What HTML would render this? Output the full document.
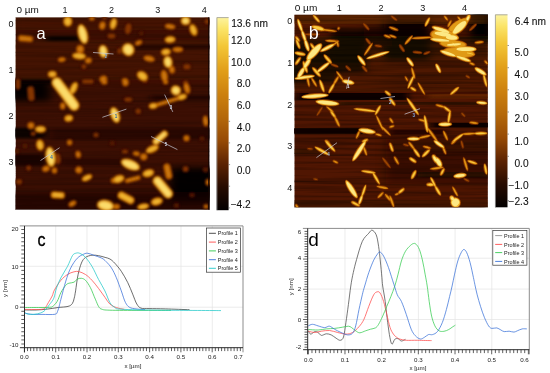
<!DOCTYPE html><html><head><meta charset="utf-8"><title>AFM figure</title>
<style>html,body{margin:0;padding:0;background:#fff;}svg{display:block;}text{font-family:"Liberation Sans",sans-serif;}</style></head><body>
<svg width="550" height="373" viewBox="0 0 550 373">
<defs>
<linearGradient id="cb" x1="0" y1="0" x2="0" y2="1">
<stop offset="0" stop-color="#fdf4a0"/><stop offset="0.06" stop-color="#fbe468"/><stop offset="0.15" stop-color="#f3c636"/>
<stop offset="0.27" stop-color="#e2a01a"/><stop offset="0.4" stop-color="#cc800e"/><stop offset="0.52" stop-color="#b4680a"/>
<stop offset="0.64" stop-color="#964a05"/><stop offset="0.76" stop-color="#5c2302"/><stop offset="0.88" stop-color="#270b00"/><stop offset="1" stop-color="#030000"/>
</linearGradient>
<filter id="bl1" x="-20%" y="-20%" width="140%" height="140%"><feGaussianBlur stdDeviation="1.1"/></filter>
<filter id="bl05" x="-20%" y="-20%" width="140%" height="140%"><feGaussianBlur stdDeviation="0.75"/></filter>
<filter id="bl2" x="-20%" y="-50%" width="140%" height="200%"><feGaussianBlur stdDeviation="3.5 1"/></filter>
<filter id="blbig" x="-20%" y="-20%" width="140%" height="140%"><feGaussianBlur stdDeviation="5 3"/></filter>
<filter id="streak" x="0" y="0" width="100%" height="100%"><feTurbulence type="fractalNoise" baseFrequency="0.008 0.35" numOctaves="3" seed="7"/><feColorMatrix type="matrix" values="0 0 0 0 0  0 0 0 0 0  0 0 0 0 0  1.6 0 0 0 -0.62"/></filter>
<filter id="bl3" x="-20%" y="-50%" width="140%" height="200%"><feGaussianBlur stdDeviation="3.5 0.7"/></filter>
<filter id="tb" x="-20%" y="-20%" width="140%" height="140%"><feGaussianBlur stdDeviation="0.35"/></filter>
<clipPath id="ca"><rect x="15.5" y="17.3" width="193.9" height="192.29999999999998"/></clipPath>
<clipPath id="cbp"><rect x="294.3" y="14.5" width="193.59999999999997" height="192.7"/></clipPath>
</defs>
<rect width="550" height="373" fill="#fff"/>
<g clip-path="url(#ca)">
<rect x="15.5" y="17.3" width="193.9" height="192.29999999999998" fill="#3c0f03"/>
<g filter="url(#blbig)">
<rect x="15" y="17" width="200" height="13" fill="#5a1806" opacity="0.35"/>
<rect x="10" y="79" width="40" height="22" fill="#050100" opacity="0.9"/>
<rect x="170" y="168" width="46" height="33" fill="#030000" opacity="0.95"/>
<rect x="10" y="192" width="205" height="22" fill="#100300" opacity="0.55"/>
<rect x="10" y="40" width="205" height="40" fill="#5a1a04" opacity="0.25"/>
</g>
<g filter="url(#bl2)">
<rect x="46" y="36" width="34" height="5" fill="#060100" opacity="0.85"/>
<rect x="130" y="45" width="85" height="4" fill="#0c0200" opacity="0.6"/>
<rect x="10" y="80" width="50" height="4" fill="#060100" opacity="0.7"/>
<rect x="150" y="95" width="65" height="5" fill="#0c0200" opacity="0.6"/>
<rect x="10" y="128" width="36" height="10" fill="#080100" opacity="0.8"/>
<rect x="50" y="128" width="165" height="12" fill="#140400" opacity="0.45"/>
<rect x="10" y="154" width="36" height="12" fill="#0a0200" opacity="0.75"/>
<rect x="60" y="158" width="70" height="8" fill="#140400" opacity="0.4"/>
</g>
<rect x="15.5" y="17.3" width="193.9" height="192.29999999999998" filter="url(#streak)" opacity="0.25"/>
<g filter="url(#bl1)">
<ellipse transform="translate(141.3 33.2) rotate(0)" rx="2.9" ry="2.9" fill="#3e1002"/>
<ellipse transform="translate(112.4 143.3) rotate(0)" rx="3.1" ry="2.9" fill="#3e1002"/>
<ellipse transform="translate(25.0 146.0) rotate(0)" rx="3.3" ry="3.1" fill="#3e1002"/>
<ellipse transform="translate(202.0 138.7) rotate(0)" rx="3.1" ry="2.9" fill="#3e1002"/>
<ellipse transform="translate(112.0 143.0) rotate(0)" rx="2.7" ry="2.9" fill="#3e1002"/>
<ellipse transform="translate(17.0 151.0) rotate(0)" rx="2.7" ry="3.5" fill="#3e1002"/>
<ellipse transform="translate(205.6 169.6) rotate(0)" rx="3.3" ry="3.1" fill="#3e1002"/>
<ellipse transform="translate(192.0 195.0) rotate(0)" rx="3.1" ry="2.6" fill="#3e1002"/>
<ellipse transform="translate(176.5 205.5) rotate(0)" rx="3.1" ry="2.9" fill="#3e1002"/>
<ellipse transform="translate(83.9 66.5) rotate(0)" rx="3.3" ry="3.3" fill="#4a1502"/>
<ellipse transform="translate(104.5 18.3) rotate(0)" rx="3.1" ry="2.4" fill="#4a1502"/>
<ellipse transform="translate(111.5 36.0) rotate(0)" rx="4.9" ry="3.4" fill="#4a1502"/>
<rect transform="translate(87.9 81.5) rotate(0)" x="-6.7" y="-3.1" width="13.4" height="6.2" rx="3.1" fill="#4a1502"/>
<ellipse transform="translate(18.0 81.0) rotate(0)" rx="3.1" ry="3.1" fill="#4a1502"/>
<ellipse transform="translate(128.2 28.7) rotate(10)" rx="4.0" ry="6.2" fill="#4a1502"/>
<ellipse transform="translate(119.5 50.9) rotate(0)" rx="3.1" ry="3.8" fill="#4a1502"/>
<ellipse transform="translate(186.9 66.7) rotate(0)" rx="4.5" ry="3.6" fill="#4a1502"/>
<ellipse transform="translate(207.0 21.4) rotate(0)" rx="3.1" ry="3.5" fill="#4a1502"/>
<ellipse transform="translate(185.6 82.5) rotate(0)" rx="3.5" ry="2.7" fill="#4a1502"/>
<rect transform="translate(31.0 93.7) rotate(-5)" x="-4.0" y="-8.1" width="8.0" height="16.1" rx="4.0" fill="#4a1502"/>
<ellipse transform="translate(18.0 85.0) rotate(0)" rx="3.1" ry="5.3" fill="#4a1502"/>
<ellipse transform="translate(33.2 133.7) rotate(0)" rx="3.1" ry="2.7" fill="#4a1502"/>
<ellipse transform="translate(96.0 135.0) rotate(0)" rx="3.3" ry="3.1" fill="#4a1502"/>
<ellipse transform="translate(145.0 81.0) rotate(0)" rx="3.1" ry="2.7" fill="#4a1502"/>
<ellipse transform="translate(128.2 99.5) rotate(0)" rx="4.9" ry="3.1" fill="#4a1502"/>
<ellipse transform="translate(138.2 111.3) rotate(0)" rx="3.5" ry="3.6" fill="#4a1502"/>
<ellipse transform="translate(57.8 158.7) rotate(-5)" rx="3.6" ry="6.2" fill="#4a1502"/>
<ellipse transform="translate(28.7 168.1) rotate(0)" rx="3.3" ry="3.1" fill="#4a1502"/>
<ellipse transform="translate(19.0 181.8) rotate(0)" rx="3.8" ry="3.6" fill="#4a1502"/>
<ellipse transform="translate(125.0 151.5) rotate(0)" rx="4.0" ry="2.9" fill="#4a1502"/>
<ellipse transform="translate(185.6 169.0) rotate(0)" rx="3.6" ry="3.5" fill="#4a1502"/>
<rect transform="translate(25.6 38.7) rotate(5)" x="-8.5" y="-4.0" width="17.0" height="8.0" rx="4.0" fill="#5e2002"/>
<ellipse transform="translate(80.2 49.2) rotate(0)" rx="4.9" ry="5.3" fill="#5e2002"/>
<ellipse transform="translate(61.8 59.6) rotate(-10)" rx="4.9" ry="3.4" fill="#5e2002"/>
<ellipse transform="translate(88.4 60.5) rotate(-20)" rx="4.5" ry="4.0" fill="#5e2002"/>
<ellipse transform="translate(91.9 18.6) rotate(0)" rx="3.8" ry="2.9" fill="#5e2002"/>
<ellipse transform="translate(102.4 25.6) rotate(15)" rx="4.2" ry="5.1" fill="#5e2002"/>
<ellipse transform="translate(103.3 79.1) rotate(-20)" rx="4.9" ry="4.5" fill="#5e2002"/>
<ellipse transform="translate(138.6 42.7) rotate(-25)" rx="4.7" ry="3.3" fill="#5e2002"/>
<ellipse transform="translate(149.2 58.7) rotate(12)" rx="6.7" ry="4.0" fill="#5e2002"/>
<ellipse transform="translate(170.1 26.5) rotate(8)" rx="6.2" ry="3.6" fill="#5e2002"/>
<ellipse transform="translate(177.8 49.6) rotate(0)" rx="6.2" ry="3.6" fill="#5e2002"/>
<ellipse transform="translate(171.9 69.6) rotate(-10)" rx="4.0" ry="4.9" fill="#5e2002"/>
<ellipse transform="translate(164.3 76.0) rotate(-10)" rx="4.5" ry="7.2" fill="#5e2002"/>
<ellipse transform="translate(124.9 80.6) rotate(0)" rx="4.0" ry="3.5" fill="#5e2002"/>
<ellipse transform="translate(104.3 82.0) rotate(0)" rx="4.0" ry="3.5" fill="#5e2002"/>
<ellipse transform="translate(62.7 105.9) rotate(0)" rx="3.6" ry="4.5" fill="#5e2002"/>
<ellipse transform="translate(31.0 125.5) rotate(0)" rx="4.5" ry="4.5" fill="#5e2002"/>
<ellipse transform="translate(69.6 142.5) rotate(0)" rx="3.6" ry="3.8" fill="#5e2002"/>
<ellipse transform="translate(125.5 82.7) rotate(10)" rx="4.2" ry="4.5" fill="#5e2002"/>
<ellipse transform="translate(165.6 82.0) rotate(0)" rx="3.5" ry="3.3" fill="#5e2002"/>
<ellipse transform="translate(186.9 88.2) rotate(-15)" rx="4.0" ry="6.7" fill="#5e2002"/>
<rect transform="translate(168.0 101.5) rotate(-17)" x="-15.7" y="-2.9" width="31.4" height="5.8" rx="2.9" fill="#5e2002"/>
<ellipse transform="translate(205.6 121.0) rotate(-5)" rx="3.6" ry="6.2" fill="#5e2002"/>
<ellipse transform="translate(186.5 138.3) rotate(0)" rx="4.0" ry="4.0" fill="#5e2002"/>
<ellipse transform="translate(46.0 168.7) rotate(-20)" rx="4.9" ry="4.0" fill="#5e2002"/>
<ellipse transform="translate(54.5 170.5) rotate(0)" rx="3.6" ry="4.0" fill="#5e2002"/>
<ellipse transform="translate(78.2 154.5) rotate(-10)" rx="3.6" ry="4.5" fill="#5e2002"/>
<ellipse transform="translate(78.8 170.0) rotate(30)" rx="4.5" ry="4.4" fill="#5e2002"/>
<ellipse transform="translate(72.4 203.7) rotate(-30)" rx="5.1" ry="3.5" fill="#5e2002"/>
<ellipse transform="translate(113.4 180.5) rotate(0)" rx="3.5" ry="3.5" fill="#5e2002"/>
<ellipse transform="translate(136.4 153.6) rotate(10)" rx="4.5" ry="3.3" fill="#5e2002"/>
<ellipse transform="translate(143.7 156.8) rotate(30)" rx="4.5" ry="4.4" fill="#5e2002"/>
<rect transform="translate(132.8 179.2) rotate(-15)" x="-9.0" y="-3.1" width="17.9" height="6.2" rx="3.1" fill="#5e2002"/>
<rect transform="translate(167.9 171.4) rotate(-12)" x="-4.4" y="-9.0" width="8.7" height="17.9" rx="4.4" fill="#5e2002"/>
<ellipse transform="translate(116.4 206.6) rotate(0)" rx="4.5" ry="3.6" fill="#5e2002"/>
<ellipse transform="translate(208.0 182.3) rotate(0)" rx="3.1" ry="4.0" fill="#5e2002"/>
<ellipse transform="translate(206.0 206.5) rotate(0)" rx="3.1" ry="3.1" fill="#5e2002"/>
<ellipse transform="translate(67.8 21.4) rotate(0)" rx="5.3" ry="6.1" fill="#742c03"/>
<ellipse transform="translate(79.1 56.0) rotate(5)" rx="7.8" ry="4.3" fill="#742c03"/>
<ellipse transform="translate(52.3 74.2) rotate(0)" rx="5.3" ry="4.3" fill="#742c03"/>
<ellipse transform="translate(113.4 23.7) rotate(15)" rx="4.3" ry="6.8" fill="#742c03"/>
<ellipse transform="translate(193.4 29.9) rotate(-20)" rx="4.5" ry="6.9" fill="#742c03"/>
<ellipse transform="translate(170.1 39.6) rotate(-5)" rx="6.3" ry="4.3" fill="#742c03"/>
<ellipse transform="translate(165.9 52.0) rotate(-10)" rx="5.8" ry="4.3" fill="#742c03"/>
<ellipse transform="translate(142.4 76.0) rotate(35)" rx="6.8" ry="5.3" fill="#742c03"/>
<ellipse transform="translate(73.7 88.2) rotate(25)" rx="4.3" ry="7.5" fill="#742c03"/>
<ellipse transform="translate(68.7 118.3) rotate(-10)" rx="5.3" ry="4.3" fill="#742c03"/>
<ellipse transform="translate(40.5 129.2) rotate(0)" rx="6.3" ry="4.3" fill="#742c03"/>
<ellipse transform="translate(40.1 145.0) rotate(-10)" rx="4.8" ry="6.3" fill="#742c03"/>
<ellipse transform="translate(182.0 97.0) rotate(-15)" rx="5.8" ry="3.9" fill="#742c03"/>
<ellipse transform="translate(153.2 105.9) rotate(-10)" rx="5.3" ry="3.9" fill="#742c03"/>
<ellipse transform="translate(87.0 177.8) rotate(-25)" rx="6.3" ry="3.7" fill="#742c03"/>
<rect transform="translate(57.8 195.1) rotate(3)" x="-7.8" y="-4.1" width="15.6" height="8.2" rx="4.1" fill="#742c03"/>
<ellipse transform="translate(152.3 149.0) rotate(-25)" rx="7.8" ry="4.3" fill="#742c03"/>
<ellipse transform="translate(148.3 173.2) rotate(-15)" rx="6.8" ry="4.7" fill="#742c03"/>
<ellipse transform="translate(118.6 179.0) rotate(-20)" rx="6.8" ry="4.7" fill="#742c03"/>
<rect transform="translate(126.0 197.8) rotate(28)" x="-9.8" y="-4.7" width="19.6" height="9.4" rx="4.7" fill="#742c03"/>
<ellipse transform="translate(156.8 201.5) rotate(-15)" rx="6.8" ry="4.7" fill="#742c03"/>
<ellipse transform="translate(143.2 206.6) rotate(-10)" rx="6.8" ry="3.9" fill="#742c03"/>
<ellipse transform="translate(82.8 34.1) rotate(-15)" rx="5.6" ry="10.8" fill="#863804"/>
<ellipse transform="translate(103.3 51.4) rotate(-10)" rx="5.3" ry="7.3" fill="#863804"/>
<ellipse transform="translate(128.2 49.6) rotate(-30)" rx="6.8" ry="7.3" fill="#863804"/>
<ellipse transform="translate(185.6 20.8) rotate(0)" rx="5.5" ry="5.1" fill="#863804"/>
<ellipse transform="translate(167.9 62.0) rotate(-10)" rx="5.3" ry="6.8" fill="#863804"/>
<rect transform="translate(65.5 94.0) rotate(-37)" x="-6.1" y="-20.3" width="12.2" height="40.6" rx="6.1" fill="#863804"/>
<ellipse transform="translate(175.9 90.4) rotate(30)" rx="5.9" ry="5.7" fill="#863804"/>
<ellipse transform="translate(115.1 115.0) rotate(-20)" rx="5.3" ry="8.8" fill="#863804"/>
<rect transform="translate(160.2 137.8) rotate(-42)" x="-9.8" y="-4.1" width="19.6" height="8.2" rx="4.1" fill="#863804"/>
<ellipse transform="translate(50.5 156.8) rotate(-8)" rx="5.7" ry="10.8" fill="#863804"/>
<ellipse transform="translate(105.5 205.5) rotate(10)" rx="9.3" ry="6.3" fill="#863804"/>
<ellipse transform="translate(130.4 164.7) rotate(22)" rx="10.8" ry="5.7" fill="#863804"/>
<rect transform="translate(162.8 187.3) rotate(-40)" x="-5.5" y="-13.8" width="11.0" height="27.6" rx="5.5" fill="#863804"/>
<ellipse transform="translate(141.3 33.2) rotate(0)" rx="1.6" ry="1.6" fill="#5a1c02"/>
<ellipse transform="translate(112.4 143.3) rotate(0)" rx="1.8" ry="1.6" fill="#5a1c02"/>
<ellipse transform="translate(25.0 146.0) rotate(0)" rx="2.0" ry="1.8" fill="#5a1c02"/>
<ellipse transform="translate(202.0 138.7) rotate(0)" rx="1.8" ry="1.6" fill="#5a1c02"/>
<ellipse transform="translate(112.0 143.0) rotate(0)" rx="1.4" ry="1.6" fill="#5a1c02"/>
<ellipse transform="translate(17.0 151.0) rotate(0)" rx="1.4" ry="2.2" fill="#5a1c02"/>
<ellipse transform="translate(205.6 169.6) rotate(0)" rx="2.0" ry="1.8" fill="#5a1c02"/>
<ellipse transform="translate(192.0 195.0) rotate(0)" rx="1.8" ry="1.3" fill="#5a1c02"/>
<ellipse transform="translate(176.5 205.5) rotate(0)" rx="1.8" ry="1.6" fill="#5a1c02"/>
<ellipse transform="translate(83.9 66.5) rotate(0)" rx="2.0" ry="2.0" fill="#843403"/>
<ellipse transform="translate(104.5 18.3) rotate(0)" rx="1.8" ry="1.1" fill="#843403"/>
<ellipse transform="translate(111.5 36.0) rotate(0)" rx="3.6" ry="2.1" fill="#843403"/>
<rect transform="translate(87.9 81.5) rotate(0)" x="-5.4" y="-1.8" width="10.8" height="3.6" rx="1.8" fill="#843403"/>
<ellipse transform="translate(18.0 81.0) rotate(0)" rx="1.8" ry="1.8" fill="#843403"/>
<ellipse transform="translate(128.2 28.7) rotate(10)" rx="2.7" ry="5.0" fill="#843403"/>
<ellipse transform="translate(119.5 50.9) rotate(0)" rx="1.8" ry="2.5" fill="#843403"/>
<ellipse transform="translate(186.9 66.7) rotate(0)" rx="3.2" ry="2.3" fill="#843403"/>
<ellipse transform="translate(207.0 21.4) rotate(0)" rx="1.8" ry="2.2" fill="#843403"/>
<ellipse transform="translate(185.6 82.5) rotate(0)" rx="2.2" ry="1.4" fill="#843403"/>
<rect transform="translate(31.0 93.7) rotate(-5)" x="-2.7" y="-6.8" width="5.4" height="13.5" rx="2.7" fill="#843403"/>
<ellipse transform="translate(18.0 85.0) rotate(0)" rx="1.8" ry="4.0" fill="#843403"/>
<ellipse transform="translate(33.2 133.7) rotate(0)" rx="1.8" ry="1.4" fill="#843403"/>
<ellipse transform="translate(96.0 135.0) rotate(0)" rx="2.0" ry="1.8" fill="#843403"/>
<ellipse transform="translate(145.0 81.0) rotate(0)" rx="1.8" ry="1.4" fill="#843403"/>
<ellipse transform="translate(128.2 99.5) rotate(0)" rx="3.6" ry="1.8" fill="#843403"/>
<ellipse transform="translate(138.2 111.3) rotate(0)" rx="2.2" ry="2.3" fill="#843403"/>
<ellipse transform="translate(57.8 158.7) rotate(-5)" rx="2.3" ry="5.0" fill="#843403"/>
<ellipse transform="translate(28.7 168.1) rotate(0)" rx="2.0" ry="1.8" fill="#843403"/>
<ellipse transform="translate(19.0 181.8) rotate(0)" rx="2.5" ry="2.3" fill="#843403"/>
<ellipse transform="translate(125.0 151.5) rotate(0)" rx="2.7" ry="1.6" fill="#843403"/>
<ellipse transform="translate(185.6 169.0) rotate(0)" rx="2.3" ry="2.2" fill="#843403"/>
<rect transform="translate(25.6 38.7) rotate(5)" x="-7.2" y="-2.7" width="14.4" height="5.4" rx="2.7" fill="#b85c05"/>
<ellipse transform="translate(80.2 49.2) rotate(0)" rx="3.6" ry="4.0" fill="#b85c05"/>
<ellipse transform="translate(61.8 59.6) rotate(-10)" rx="3.6" ry="2.1" fill="#b85c05"/>
<ellipse transform="translate(88.4 60.5) rotate(-20)" rx="3.2" ry="2.7" fill="#b85c05"/>
<ellipse transform="translate(91.9 18.6) rotate(0)" rx="2.5" ry="1.6" fill="#b85c05"/>
<ellipse transform="translate(102.4 25.6) rotate(15)" rx="2.9" ry="3.8" fill="#b85c05"/>
<ellipse transform="translate(103.3 79.1) rotate(-20)" rx="3.6" ry="3.1" fill="#b85c05"/>
<ellipse transform="translate(138.6 42.7) rotate(-25)" rx="3.4" ry="2.0" fill="#b85c05"/>
<ellipse transform="translate(149.2 58.7) rotate(12)" rx="5.4" ry="2.7" fill="#b85c05"/>
<ellipse transform="translate(170.1 26.5) rotate(8)" rx="5.0" ry="2.3" fill="#b85c05"/>
<ellipse transform="translate(177.8 49.6) rotate(0)" rx="5.0" ry="2.3" fill="#b85c05"/>
<ellipse transform="translate(171.9 69.6) rotate(-10)" rx="2.7" ry="3.6" fill="#b85c05"/>
<ellipse transform="translate(164.3 76.0) rotate(-10)" rx="3.1" ry="5.9" fill="#b85c05"/>
<ellipse transform="translate(124.9 80.6) rotate(0)" rx="2.7" ry="2.2" fill="#b85c05"/>
<ellipse transform="translate(104.3 82.0) rotate(0)" rx="2.7" ry="2.2" fill="#b85c05"/>
<ellipse transform="translate(62.7 105.9) rotate(0)" rx="2.3" ry="3.2" fill="#b85c05"/>
<ellipse transform="translate(31.0 125.5) rotate(0)" rx="3.1" ry="3.1" fill="#b85c05"/>
<ellipse transform="translate(69.6 142.5) rotate(0)" rx="2.3" ry="2.5" fill="#b85c05"/>
<ellipse transform="translate(125.5 82.7) rotate(10)" rx="2.9" ry="3.2" fill="#b85c05"/>
<ellipse transform="translate(165.6 82.0) rotate(0)" rx="2.2" ry="2.0" fill="#b85c05"/>
<ellipse transform="translate(186.9 88.2) rotate(-15)" rx="2.7" ry="5.4" fill="#b85c05"/>
<rect transform="translate(168.0 101.5) rotate(-17)" x="-14.4" y="-1.6" width="28.8" height="3.2" rx="1.6" fill="#b85c05"/>
<ellipse transform="translate(205.6 121.0) rotate(-5)" rx="2.3" ry="5.0" fill="#b85c05"/>
<ellipse transform="translate(186.5 138.3) rotate(0)" rx="2.7" ry="2.7" fill="#b85c05"/>
<ellipse transform="translate(46.0 168.7) rotate(-20)" rx="3.6" ry="2.7" fill="#b85c05"/>
<ellipse transform="translate(54.5 170.5) rotate(0)" rx="2.3" ry="2.7" fill="#b85c05"/>
<ellipse transform="translate(78.2 154.5) rotate(-10)" rx="2.3" ry="3.2" fill="#b85c05"/>
<ellipse transform="translate(78.8 170.0) rotate(30)" rx="3.2" ry="3.1" fill="#b85c05"/>
<ellipse transform="translate(72.4 203.7) rotate(-30)" rx="3.8" ry="2.2" fill="#b85c05"/>
<ellipse transform="translate(113.4 180.5) rotate(0)" rx="2.2" ry="2.2" fill="#b85c05"/>
<ellipse transform="translate(136.4 153.6) rotate(10)" rx="3.2" ry="2.0" fill="#b85c05"/>
<ellipse transform="translate(143.7 156.8) rotate(30)" rx="3.2" ry="3.1" fill="#b85c05"/>
<rect transform="translate(132.8 179.2) rotate(-15)" x="-7.7" y="-1.8" width="15.3" height="3.6" rx="1.8" fill="#b85c05"/>
<rect transform="translate(167.9 171.4) rotate(-12)" x="-3.1" y="-7.7" width="6.1" height="15.3" rx="3.1" fill="#b85c05"/>
<ellipse transform="translate(116.4 206.6) rotate(0)" rx="3.2" ry="2.3" fill="#b85c05"/>
<ellipse transform="translate(208.0 182.3) rotate(0)" rx="1.8" ry="2.7" fill="#b85c05"/>
<ellipse transform="translate(206.0 206.5) rotate(0)" rx="1.8" ry="1.8" fill="#b85c05"/>
<ellipse transform="translate(67.8 21.4) rotate(0)" rx="4.0" ry="4.8" fill="#d88610"/>
<ellipse transform="translate(79.1 56.0) rotate(5)" rx="6.5" ry="3.0" fill="#d88610"/>
<ellipse transform="translate(52.3 74.2) rotate(0)" rx="4.0" ry="3.0" fill="#d88610"/>
<ellipse transform="translate(113.4 23.7) rotate(15)" rx="3.0" ry="5.5" fill="#d88610"/>
<ellipse transform="translate(193.4 29.9) rotate(-20)" rx="3.2" ry="5.6" fill="#d88610"/>
<ellipse transform="translate(170.1 39.6) rotate(-5)" rx="5.0" ry="3.0" fill="#d88610"/>
<ellipse transform="translate(165.9 52.0) rotate(-10)" rx="4.5" ry="3.0" fill="#d88610"/>
<ellipse transform="translate(142.4 76.0) rotate(35)" rx="5.5" ry="4.0" fill="#d88610"/>
<ellipse transform="translate(73.7 88.2) rotate(25)" rx="3.0" ry="6.2" fill="#d88610"/>
<ellipse transform="translate(68.7 118.3) rotate(-10)" rx="4.0" ry="3.0" fill="#d88610"/>
<ellipse transform="translate(40.5 129.2) rotate(0)" rx="5.0" ry="3.0" fill="#d88610"/>
<ellipse transform="translate(40.1 145.0) rotate(-10)" rx="3.5" ry="5.0" fill="#d88610"/>
<ellipse transform="translate(182.0 97.0) rotate(-15)" rx="4.5" ry="2.6" fill="#d88610"/>
<ellipse transform="translate(153.2 105.9) rotate(-10)" rx="4.0" ry="2.6" fill="#d88610"/>
<ellipse transform="translate(87.0 177.8) rotate(-25)" rx="5.0" ry="2.4" fill="#d88610"/>
<rect transform="translate(57.8 195.1) rotate(3)" x="-6.5" y="-2.8" width="13.0" height="5.6" rx="2.8" fill="#d88610"/>
<ellipse transform="translate(152.3 149.0) rotate(-25)" rx="6.5" ry="3.0" fill="#d88610"/>
<ellipse transform="translate(148.3 173.2) rotate(-15)" rx="5.5" ry="3.4" fill="#d88610"/>
<ellipse transform="translate(118.6 179.0) rotate(-20)" rx="5.5" ry="3.4" fill="#d88610"/>
<rect transform="translate(126.0 197.8) rotate(28)" x="-8.5" y="-3.4" width="17.0" height="6.8" rx="3.4" fill="#d88610"/>
<ellipse transform="translate(156.8 201.5) rotate(-15)" rx="5.5" ry="3.4" fill="#d88610"/>
<ellipse transform="translate(143.2 206.6) rotate(-10)" rx="5.5" ry="2.6" fill="#d88610"/>
<ellipse transform="translate(82.8 34.1) rotate(-15)" rx="4.3" ry="9.5" fill="#eaa41e"/>
<ellipse transform="translate(103.3 51.4) rotate(-10)" rx="4.0" ry="6.0" fill="#eaa41e"/>
<ellipse transform="translate(128.2 49.6) rotate(-30)" rx="5.5" ry="6.0" fill="#eaa41e"/>
<ellipse transform="translate(185.6 20.8) rotate(0)" rx="4.2" ry="3.8" fill="#eaa41e"/>
<ellipse transform="translate(167.9 62.0) rotate(-10)" rx="4.0" ry="5.5" fill="#eaa41e"/>
<rect transform="translate(65.5 94.0) rotate(-37)" x="-4.8" y="-19.0" width="9.6" height="38.0" rx="4.8" fill="#eaa41e"/>
<ellipse transform="translate(175.9 90.4) rotate(30)" rx="4.6" ry="4.4" fill="#eaa41e"/>
<ellipse transform="translate(115.1 115.0) rotate(-20)" rx="4.0" ry="7.5" fill="#eaa41e"/>
<rect transform="translate(160.2 137.8) rotate(-42)" x="-8.5" y="-2.8" width="17.0" height="5.6" rx="2.8" fill="#eaa41e"/>
<ellipse transform="translate(50.5 156.8) rotate(-8)" rx="4.4" ry="9.5" fill="#eaa41e"/>
<ellipse transform="translate(105.5 205.5) rotate(10)" rx="8.0" ry="5.0" fill="#eaa41e"/>
<ellipse transform="translate(130.4 164.7) rotate(22)" rx="9.5" ry="4.4" fill="#eaa41e"/>
<rect transform="translate(162.8 187.3) rotate(-40)" x="-4.2" y="-12.5" width="8.4" height="25.0" rx="4.2" fill="#eaa41e"/>
<rect transform="translate(25.6 38.7) rotate(5)" x="-5.6" y="-1.2" width="11.2" height="2.4" rx="1.2" fill="#cc7a0a"/>
<ellipse transform="translate(80.2 49.2) rotate(0)" rx="2.0" ry="2.4" fill="#cc7a0a"/>
<ellipse transform="translate(61.8 59.6) rotate(-10)" rx="2.0" ry="0.9" fill="#cc7a0a"/>
<ellipse transform="translate(88.4 60.5) rotate(-20)" rx="1.6" ry="1.2" fill="#cc7a0a"/>
<ellipse transform="translate(91.9 18.6) rotate(0)" rx="1.1" ry="0.7" fill="#cc7a0a"/>
<ellipse transform="translate(102.4 25.6) rotate(15)" rx="1.3" ry="2.2" fill="#cc7a0a"/>
<ellipse transform="translate(103.3 79.1) rotate(-20)" rx="2.0" ry="1.5" fill="#cc7a0a"/>
<ellipse transform="translate(138.6 42.7) rotate(-25)" rx="1.8" ry="0.9" fill="#cc7a0a"/>
<ellipse transform="translate(149.2 58.7) rotate(12)" rx="3.8" ry="1.2" fill="#cc7a0a"/>
<ellipse transform="translate(170.1 26.5) rotate(8)" rx="3.4" ry="1.1" fill="#cc7a0a"/>
<ellipse transform="translate(177.8 49.6) rotate(0)" rx="3.4" ry="1.1" fill="#cc7a0a"/>
<ellipse transform="translate(171.9 69.6) rotate(-10)" rx="1.2" ry="2.0" fill="#cc7a0a"/>
<ellipse transform="translate(164.3 76.0) rotate(-10)" rx="1.5" ry="4.2" fill="#cc7a0a"/>
<ellipse transform="translate(124.9 80.6) rotate(0)" rx="1.2" ry="1.0" fill="#cc7a0a"/>
<ellipse transform="translate(104.3 82.0) rotate(0)" rx="1.2" ry="1.0" fill="#cc7a0a"/>
<ellipse transform="translate(62.7 105.9) rotate(0)" rx="1.1" ry="1.6" fill="#cc7a0a"/>
<ellipse transform="translate(31.0 125.5) rotate(0)" rx="1.5" ry="1.5" fill="#cc7a0a"/>
<ellipse transform="translate(69.6 142.5) rotate(0)" rx="1.1" ry="1.1" fill="#cc7a0a"/>
<ellipse transform="translate(125.5 82.7) rotate(10)" rx="1.3" ry="1.6" fill="#cc7a0a"/>
<ellipse transform="translate(165.6 82.0) rotate(0)" rx="1.0" ry="0.9" fill="#cc7a0a"/>
<ellipse transform="translate(186.9 88.2) rotate(-15)" rx="1.2" ry="3.8" fill="#cc7a0a"/>
<rect transform="translate(168.0 101.5) rotate(-17)" x="-12.8" y="-0.7" width="25.6" height="1.5" rx="0.7" fill="#cc7a0a"/>
<ellipse transform="translate(205.6 121.0) rotate(-5)" rx="1.1" ry="3.4" fill="#cc7a0a"/>
<ellipse transform="translate(186.5 138.3) rotate(0)" rx="1.2" ry="1.2" fill="#cc7a0a"/>
<ellipse transform="translate(46.0 168.7) rotate(-20)" rx="2.0" ry="1.2" fill="#cc7a0a"/>
<ellipse transform="translate(54.5 170.5) rotate(0)" rx="1.1" ry="1.2" fill="#cc7a0a"/>
<ellipse transform="translate(78.2 154.5) rotate(-10)" rx="1.1" ry="1.6" fill="#cc7a0a"/>
<ellipse transform="translate(78.8 170.0) rotate(30)" rx="1.6" ry="1.5" fill="#cc7a0a"/>
<ellipse transform="translate(72.4 203.7) rotate(-30)" rx="2.2" ry="1.0" fill="#cc7a0a"/>
<ellipse transform="translate(113.4 180.5) rotate(0)" rx="1.0" ry="1.0" fill="#cc7a0a"/>
<ellipse transform="translate(136.4 153.6) rotate(10)" rx="1.6" ry="0.9" fill="#cc7a0a"/>
<ellipse transform="translate(143.7 156.8) rotate(30)" rx="1.6" ry="1.5" fill="#cc7a0a"/>
<rect transform="translate(132.8 179.2) rotate(-15)" x="-6.1" y="-0.8" width="12.1" height="1.6" rx="0.8" fill="#cc7a0a"/>
<rect transform="translate(167.9 171.4) rotate(-12)" x="-1.5" y="-6.1" width="2.9" height="12.1" rx="1.5" fill="#cc7a0a"/>
<ellipse transform="translate(116.4 206.6) rotate(0)" rx="1.6" ry="1.1" fill="#cc7a0a"/>
<ellipse transform="translate(208.0 182.3) rotate(0)" rx="0.8" ry="1.2" fill="#cc7a0a"/>
<ellipse transform="translate(206.0 206.5) rotate(0)" rx="0.8" ry="0.8" fill="#cc7a0a"/>
<ellipse transform="translate(67.8 21.4) rotate(0)" rx="2.4" ry="3.2" fill="#f0b830"/>
<ellipse transform="translate(79.1 56.0) rotate(5)" rx="4.9" ry="1.4" fill="#f0b830"/>
<ellipse transform="translate(52.3 74.2) rotate(0)" rx="2.4" ry="1.4" fill="#f0b830"/>
<ellipse transform="translate(113.4 23.7) rotate(15)" rx="1.4" ry="3.9" fill="#f0b830"/>
<ellipse transform="translate(193.4 29.9) rotate(-20)" rx="1.6" ry="4.0" fill="#f0b830"/>
<ellipse transform="translate(170.1 39.6) rotate(-5)" rx="3.4" ry="1.4" fill="#f0b830"/>
<ellipse transform="translate(165.9 52.0) rotate(-10)" rx="2.9" ry="1.4" fill="#f0b830"/>
<ellipse transform="translate(142.4 76.0) rotate(35)" rx="3.9" ry="2.4" fill="#f0b830"/>
<ellipse transform="translate(73.7 88.2) rotate(25)" rx="1.4" ry="4.6" fill="#f0b830"/>
<ellipse transform="translate(68.7 118.3) rotate(-10)" rx="2.4" ry="1.4" fill="#f0b830"/>
<ellipse transform="translate(40.5 129.2) rotate(0)" rx="3.4" ry="1.4" fill="#f0b830"/>
<ellipse transform="translate(40.1 145.0) rotate(-10)" rx="1.9" ry="3.4" fill="#f0b830"/>
<ellipse transform="translate(182.0 97.0) rotate(-15)" rx="2.9" ry="1.2" fill="#f0b830"/>
<ellipse transform="translate(153.2 105.9) rotate(-10)" rx="2.4" ry="1.2" fill="#f0b830"/>
<ellipse transform="translate(87.0 177.8) rotate(-25)" rx="3.4" ry="1.1" fill="#f0b830"/>
<rect transform="translate(57.8 195.1) rotate(3)" x="-4.9" y="-1.3" width="9.8" height="2.5" rx="1.3" fill="#f0b830"/>
<ellipse transform="translate(152.3 149.0) rotate(-25)" rx="4.9" ry="1.4" fill="#f0b830"/>
<ellipse transform="translate(148.3 173.2) rotate(-15)" rx="3.9" ry="1.8" fill="#f0b830"/>
<ellipse transform="translate(118.6 179.0) rotate(-20)" rx="3.9" ry="1.8" fill="#f0b830"/>
<rect transform="translate(126.0 197.8) rotate(28)" x="-6.9" y="-1.8" width="13.8" height="3.6" rx="1.8" fill="#f0b830"/>
<ellipse transform="translate(156.8 201.5) rotate(-15)" rx="3.9" ry="1.8" fill="#f0b830"/>
<ellipse transform="translate(143.2 206.6) rotate(-10)" rx="3.9" ry="1.2" fill="#f0b830"/>
<ellipse transform="translate(82.8 34.1) rotate(-15)" rx="2.7" ry="7.9" fill="#fbdc6a"/>
<ellipse transform="translate(103.3 51.4) rotate(-10)" rx="2.4" ry="4.4" fill="#fbdc6a"/>
<ellipse transform="translate(128.2 49.6) rotate(-30)" rx="3.9" ry="4.4" fill="#fbdc6a"/>
<ellipse transform="translate(185.6 20.8) rotate(0)" rx="2.6" ry="2.2" fill="#fbdc6a"/>
<ellipse transform="translate(167.9 62.0) rotate(-10)" rx="2.4" ry="3.9" fill="#fbdc6a"/>
<rect transform="translate(65.5 94.0) rotate(-37)" x="-3.2" y="-17.4" width="6.4" height="34.8" rx="3.2" fill="#fbdc6a"/>
<ellipse transform="translate(175.9 90.4) rotate(30)" rx="3.0" ry="2.8" fill="#fbdc6a"/>
<ellipse transform="translate(115.1 115.0) rotate(-20)" rx="2.4" ry="5.9" fill="#fbdc6a"/>
<rect transform="translate(160.2 137.8) rotate(-42)" x="-6.9" y="-1.3" width="13.8" height="2.5" rx="1.3" fill="#fbdc6a"/>
<ellipse transform="translate(50.5 156.8) rotate(-8)" rx="2.8" ry="7.9" fill="#fbdc6a"/>
<ellipse transform="translate(105.5 205.5) rotate(10)" rx="6.4" ry="3.4" fill="#fbdc6a"/>
<ellipse transform="translate(130.4 164.7) rotate(22)" rx="7.9" ry="2.8" fill="#fbdc6a"/>
<rect transform="translate(162.8 187.3) rotate(-40)" x="-2.6" y="-10.9" width="5.2" height="21.8" rx="2.6" fill="#fbdc6a"/>
</g>
<rect x="208.0" y="17.3" width="1.4" height="192.29999999999998" fill="#120300" opacity="0.8"/>
<g stroke="#c8ccd8" stroke-width="0.7" fill="none" filter="url(#tb)">
<line x1="102.4" y1="117.3" x2="126.4" y2="109.1"/>
<line x1="93.0" y1="52.5" x2="113.5" y2="54.0"/>
<line x1="164.6" y1="94.6" x2="172.8" y2="111.9"/>
<line x1="40.5" y1="160.5" x2="59.6" y2="147.7"/>
<line x1="151.0" y1="136.5" x2="177.4" y2="149.6"/>
</g>
<text x="116.0" y="118.0" font-size="4.5" fill="#2a5ea0" text-anchor="middle" font-weight="bold">1</text>
<text x="106.0" y="58.0" font-size="4.5" fill="#7aa0d0" text-anchor="middle" font-weight="bold">2</text>
<text x="171.0" y="108.5" font-size="4.5" fill="#c8d0e0" text-anchor="middle" font-weight="bold">3</text>
<text x="51.4" y="159.3" font-size="4.5" fill="#2a6ab0" text-anchor="middle" font-weight="bold">4</text>
<text x="166.1" y="146.2" font-size="4.5" fill="#d0d8e8" text-anchor="middle" font-weight="bold">5</text>
</g>
<g clip-path="url(#cbp)">
<rect x="294.3" y="14.5" width="193.59999999999997" height="192.7" fill="#501602"/>
<g filter="url(#blbig)">
<rect x="386" y="136" width="108" height="48" fill="#140400" opacity="0.4"/>
<rect x="286" y="42" width="52" height="42" fill="#070100" opacity="0.88"/>
<rect x="331" y="31" width="36" height="42" fill="#060100" opacity="1"/>
<rect x="384" y="17" width="46" height="44" fill="#070100" opacity="1"/>
<rect x="364" y="28" width="28" height="18" fill="#120400" opacity="0.85"/>
<rect x="470" y="13" width="22" height="29" fill="#060100" opacity="1"/>
<rect x="294" y="36" width="194" height="22" fill="#2a0e00" opacity="0.5"/>
<rect x="294" y="60" width="194" height="32" fill="#4a1c02" opacity="0.35"/>
</g>
<g filter="url(#bl3)">
<rect x="294" y="15" width="194" height="9" fill="#6a3006" opacity="0.5"/>
<rect x="298" y="93.0" width="110" height="6.799999999999997" fill="#080100" opacity="1"/>
<rect x="428" y="94" width="64" height="4.5" fill="#7c3605" opacity="0.45"/>
<rect x="340" y="102" width="148" height="3" fill="#2a0d00" opacity="0.6"/>
<rect x="290" y="128.3" width="82" height="5.399999999999977" fill="#080100" opacity="1"/>
<rect x="432" y="122.8" width="60" height="4.6000000000000085" fill="#080100" opacity="1"/>
<rect x="390" y="129.5" width="56" height="5.0" fill="#1c0800" opacity="0.75"/>
<rect x="294" y="149" width="36" height="5" fill="#2c0e00" opacity="0.6"/>
<rect x="418" y="172" width="70" height="5.5" fill="#220a00" opacity="0.7"/>
<rect x="294" y="200" width="194" height="8" fill="#3a1400" opacity="0.5"/>
<rect x="390" y="140" width="98" height="11" fill="#3a1400" opacity="0.45"/>
</g>
<rect x="294.3" y="14.5" width="193.59999999999997" height="192.7" filter="url(#streak)" opacity="0.5"/>
<g filter="url(#bl05)">
<ellipse transform="translate(312.0 34.3) rotate(0)" rx="8.4" ry="1.8" fill="#5e2002"/>
<ellipse transform="translate(366.1 26.4) rotate(50)" rx="4.9" ry="1.9" fill="#5e2002"/>
<ellipse transform="translate(378.3 46.0) rotate(9)" rx="4.1" ry="1.7" fill="#5e2002"/>
<ellipse transform="translate(364.7 68.8) rotate(51)" rx="4.3" ry="1.9" fill="#5e2002"/>
<ellipse transform="translate(348.2 68.2) rotate(45)" rx="3.9" ry="1.7" fill="#5e2002"/>
<ellipse transform="translate(334.6 65.5) rotate(19)" rx="4.3" ry="1.7" fill="#5e2002"/>
<ellipse transform="translate(368.3 41.4) rotate(52)" rx="4.3" ry="1.8" fill="#5e2002"/>
<ellipse transform="translate(472.9 27.3) rotate(-44)" rx="5.3" ry="1.8" fill="#5e2002"/>
<ellipse transform="translate(401.9 48.2) rotate(56)" rx="4.7" ry="1.9" fill="#5e2002"/>
<ellipse transform="translate(417.4 52.4) rotate(6)" rx="5.1" ry="1.7" fill="#5e2002"/>
<ellipse transform="translate(426.9 52.9) rotate(-20)" rx="3.9" ry="1.7" fill="#5e2002"/>
<ellipse transform="translate(394.1 18.2) rotate(38)" rx="4.3" ry="1.8" fill="#5e2002"/>
<ellipse transform="translate(319.6 111.4) rotate(-57)" rx="5.7" ry="1.7" fill="#5e2002"/>
<ellipse transform="translate(467.8 76.8) rotate(31)" rx="2.9" ry="1.7" fill="#5e2002"/>
<ellipse transform="translate(463.2 114.8) rotate(45)" rx="3.2" ry="1.7" fill="#5e2002"/>
<ellipse transform="translate(310.0 148.8) rotate(7)" rx="3.4" ry="1.6" fill="#5e2002"/>
<ellipse transform="translate(386.4 162.8) rotate(52)" rx="7.2" ry="1.8" fill="#5e2002"/>
<ellipse transform="translate(315.5 179.2) rotate(9)" rx="2.9" ry="1.6" fill="#5e2002"/>
<ellipse transform="translate(462.2 144.5) rotate(76)" rx="4.5" ry="1.7" fill="#5e2002"/>
<ellipse transform="translate(406.0 145.0) rotate(14)" rx="3.5" ry="1.7" fill="#5e2002"/>
<ellipse transform="translate(466.5 180.0) rotate(27)" rx="3.6" ry="1.7" fill="#5e2002"/>
<ellipse transform="translate(329.0 30.4) rotate(7)" rx="8.5" ry="1.8" fill="#702a03"/>
<ellipse transform="translate(331.5 40.9) rotate(3)" rx="6.9" ry="1.9" fill="#702a03"/>
<ellipse transform="translate(337.6 43.5) rotate(77)" rx="4.0" ry="1.8" fill="#702a03"/>
<ellipse transform="translate(338.6 28.4) rotate(23)" rx="1.8" ry="2.1" fill="#702a03"/>
<ellipse transform="translate(335.9 43.0) rotate(-36)" rx="4.1" ry="1.8" fill="#702a03"/>
<ellipse transform="translate(368.4 49.2) rotate(-56)" rx="8.0" ry="1.9" fill="#702a03"/>
<ellipse transform="translate(387.4 36.4) rotate(19)" rx="4.2" ry="1.9" fill="#702a03"/>
<ellipse transform="translate(340.0 76.0) rotate(53)" rx="6.4" ry="1.9" fill="#702a03"/>
<ellipse transform="translate(444.0 36.0) rotate(9)" rx="14.6" ry="7.4" fill="#702a03"/>
<ellipse transform="translate(458.5 25.0) rotate(-32)" rx="12.6" ry="5.4" fill="#702a03"/>
<ellipse transform="translate(459.0 52.5) rotate(6)" rx="16.5" ry="5.9" fill="#702a03"/>
<ellipse transform="translate(453.0 44.0) rotate(4)" rx="14.4" ry="4.9" fill="#702a03"/>
<ellipse transform="translate(421.9 37.8) rotate(-3)" rx="11.4" ry="1.8" fill="#702a03"/>
<ellipse transform="translate(408.7 40.0) rotate(-49)" rx="6.3" ry="2.0" fill="#702a03"/>
<ellipse transform="translate(449.6 23.6) rotate(-64)" rx="4.5" ry="2.0" fill="#702a03"/>
<ellipse transform="translate(446.0 18.2) rotate(52)" rx="3.7" ry="1.9" fill="#702a03"/>
<ellipse transform="translate(479.2 42.3) rotate(-7)" rx="5.1" ry="2.0" fill="#702a03"/>
<ellipse transform="translate(393.6 28.6) rotate(20)" rx="5.3" ry="1.9" fill="#702a03"/>
<ellipse transform="translate(392.8 36.4) rotate(18)" rx="4.3" ry="1.8" fill="#702a03"/>
<ellipse transform="translate(413.2 73.2) rotate(74)" rx="6.4" ry="2.0" fill="#702a03"/>
<ellipse transform="translate(472.0 63.8) rotate(22)" rx="3.6" ry="1.9" fill="#702a03"/>
<ellipse transform="translate(486.2 62.4) rotate(47)" rx="3.2" ry="1.9" fill="#702a03"/>
<ellipse transform="translate(460.0 19.5) rotate(51)" rx="4.6" ry="1.9" fill="#702a03"/>
<ellipse transform="translate(308.2 81.4) rotate(79)" rx="6.1" ry="1.9" fill="#702a03"/>
<ellipse transform="translate(314.1 82.3) rotate(59)" rx="5.7" ry="1.9" fill="#702a03"/>
<ellipse transform="translate(336.1 80.4) rotate(-59)" rx="5.6" ry="2.0" fill="#702a03"/>
<ellipse transform="translate(337.1 121.5) rotate(65)" rx="6.4" ry="2.1" fill="#702a03"/>
<ellipse transform="translate(330.0 109.5) rotate(40)" rx="5.3" ry="1.9" fill="#702a03"/>
<ellipse transform="translate(379.7 122.8) rotate(65)" rx="8.9" ry="1.9" fill="#702a03"/>
<ellipse transform="translate(385.5 130.5) rotate(45)" rx="7.8" ry="1.9" fill="#702a03"/>
<ellipse transform="translate(357.9 134.7) rotate(-67)" rx="4.8" ry="1.9" fill="#702a03"/>
<ellipse transform="translate(378.5 134.8) rotate(17)" rx="4.0" ry="1.9" fill="#702a03"/>
<ellipse transform="translate(327.5 141.8) rotate(40)" rx="3.4" ry="1.9" fill="#702a03"/>
<ellipse transform="translate(421.4 88.7) rotate(60)" rx="7.7" ry="1.9" fill="#702a03"/>
<ellipse transform="translate(440.2 106.0) rotate(15)" rx="5.3" ry="2.0" fill="#702a03"/>
<ellipse transform="translate(422.8 120.5) rotate(14)" rx="5.2" ry="2.0" fill="#702a03"/>
<ellipse transform="translate(432.4 134.7) rotate(54)" rx="9.9" ry="2.1" fill="#702a03"/>
<ellipse transform="translate(424.6 136.8) rotate(-13)" rx="7.0" ry="2.0" fill="#702a03"/>
<ellipse transform="translate(445.5 135.6) rotate(66)" rx="5.9" ry="2.0" fill="#702a03"/>
<ellipse transform="translate(468.9 133.8) rotate(-3)" rx="7.5" ry="2.0" fill="#702a03"/>
<ellipse transform="translate(473.8 122.8) rotate(7)" rx="5.1" ry="2.0" fill="#702a03"/>
<ellipse transform="translate(391.4 120.6) rotate(54)" rx="3.7" ry="2.0" fill="#702a03"/>
<ellipse transform="translate(391.8 126.5) rotate(-16)" rx="3.3" ry="1.9" fill="#702a03"/>
<ellipse transform="translate(406.5 78.8) rotate(60)" rx="3.4" ry="1.7" fill="#702a03"/>
<ellipse transform="translate(365.1 150.9) rotate(70)" rx="5.3" ry="2.0" fill="#702a03"/>
<ellipse transform="translate(335.5 161.9) rotate(26)" rx="3.5" ry="1.9" fill="#702a03"/>
<ellipse transform="translate(382.4 187.4) rotate(11)" rx="6.5" ry="2.0" fill="#702a03"/>
<ellipse transform="translate(380.6 195.1) rotate(-45)" rx="4.7" ry="2.0" fill="#702a03"/>
<ellipse transform="translate(387.8 197.3) rotate(51)" rx="4.9" ry="2.1" fill="#702a03"/>
<ellipse transform="translate(297.0 206.5) rotate(56)" rx="3.2" ry="2.0" fill="#702a03"/>
<ellipse transform="translate(411.6 145.8) rotate(52)" rx="5.4" ry="2.0" fill="#702a03"/>
<ellipse transform="translate(426.9 147.3) rotate(16)" rx="4.7" ry="1.9" fill="#702a03"/>
<ellipse transform="translate(444.3 150.4) rotate(68)" rx="4.8" ry="1.9" fill="#702a03"/>
<ellipse transform="translate(453.8 141.8) rotate(-44)" rx="4.0" ry="2.0" fill="#702a03"/>
<ellipse transform="translate(436.9 168.2) rotate(-8)" rx="7.4" ry="2.0" fill="#702a03"/>
<ellipse transform="translate(396.4 160.5) rotate(61)" rx="5.1" ry="2.0" fill="#702a03"/>
<ellipse transform="translate(465.6 164.1) rotate(73)" rx="7.6" ry="2.0" fill="#702a03"/>
<ellipse transform="translate(455.1 191.4) rotate(61)" rx="6.1" ry="1.9" fill="#702a03"/>
<ellipse transform="translate(396.9 194.1) rotate(-18)" rx="2.8" ry="1.8" fill="#702a03"/>
<ellipse transform="translate(391.8 201.4) rotate(70)" rx="6.8" ry="2.1" fill="#702a03"/>
<ellipse transform="translate(316.4 18.6) rotate(49)" rx="5.5" ry="2.1" fill="#843804"/>
<ellipse transform="translate(297.5 39.0) rotate(53)" rx="3.9" ry="2.0" fill="#843804"/>
<ellipse transform="translate(318.2 28.1) rotate(16)" rx="7.4" ry="3.0" fill="#843804"/>
<ellipse transform="translate(300.1 53.7) rotate(11)" rx="6.0" ry="2.4" fill="#843804"/>
<ellipse transform="translate(327.8 59.1) rotate(49)" rx="6.3" ry="2.3" fill="#843804"/>
<ellipse transform="translate(305.2 67.0) rotate(71)" rx="6.7" ry="2.3" fill="#843804"/>
<ellipse transform="translate(298.0 44.0) rotate(69)" rx="5.7" ry="2.1" fill="#843804"/>
<ellipse transform="translate(313.0 47.0) rotate(56)" rx="5.0" ry="2.1" fill="#843804"/>
<ellipse transform="translate(298.0 61.0) rotate(124)" rx="5.0" ry="2.1" fill="#843804"/>
<ellipse transform="translate(316.5 72.0) rotate(49)" rx="6.7" ry="2.3" fill="#843804"/>
<ellipse transform="translate(427.4 21.9) rotate(-63)" rx="5.5" ry="2.1" fill="#843804"/>
<ellipse transform="translate(470.0 53.5) rotate(14)" rx="5.5" ry="2.2" fill="#843804"/>
<ellipse transform="translate(454.0 44.5) rotate(51)" rx="4.6" ry="2.1" fill="#843804"/>
<ellipse transform="translate(321.9 86.0) rotate(71)" rx="7.2" ry="2.3" fill="#843804"/>
<ellipse transform="translate(331.6 88.2) rotate(-60)" rx="6.2" ry="2.1" fill="#843804"/>
<ellipse transform="translate(333.0 114.2) rotate(54)" rx="4.8" ry="2.1" fill="#843804"/>
<ellipse transform="translate(365.1 110.1) rotate(7)" rx="11.9" ry="2.1" fill="#843804"/>
<ellipse transform="translate(377.9 110.1) rotate(-61)" rx="6.1" ry="2.1" fill="#843804"/>
<ellipse transform="translate(365.1 140.6) rotate(-22)" rx="3.8" ry="2.1" fill="#843804"/>
<ellipse transform="translate(387.8 93.2) rotate(39)" rx="4.2" ry="2.1" fill="#843804"/>
<ellipse transform="translate(410.9 81.8) rotate(115)" rx="7.9" ry="2.1" fill="#843804"/>
<ellipse transform="translate(413.2 89.1) rotate(32)" rx="4.0" ry="2.1" fill="#843804"/>
<ellipse transform="translate(454.6 90.9) rotate(-41)" rx="6.3" ry="2.1" fill="#843804"/>
<ellipse transform="translate(412.8 106.5) rotate(55)" rx="10.9" ry="2.3" fill="#843804"/>
<ellipse transform="translate(392.3 101.8) rotate(54)" rx="5.3" ry="2.2" fill="#843804"/>
<ellipse transform="translate(447.1 109.2) rotate(36)" rx="5.2" ry="2.1" fill="#843804"/>
<ellipse transform="translate(449.2 116.9) rotate(99)" rx="7.0" ry="2.1" fill="#843804"/>
<ellipse transform="translate(426.0 123.8) rotate(80)" rx="9.3" ry="2.3" fill="#843804"/>
<ellipse transform="translate(457.9 137.8) rotate(-36)" rx="7.6" ry="2.1" fill="#843804"/>
<ellipse transform="translate(480.8 133.4) rotate(-1)" rx="7.2" ry="2.3" fill="#843804"/>
<ellipse transform="translate(485.1 80.5) rotate(76)" rx="7.1" ry="2.1" fill="#843804"/>
<ellipse transform="translate(330.1 146.0) rotate(48)" rx="8.2" ry="2.3" fill="#843804"/>
<ellipse transform="translate(321.9 150.9) rotate(30)" rx="8.8" ry="2.3" fill="#843804"/>
<ellipse transform="translate(368.4 171.9) rotate(8)" rx="7.8" ry="2.1" fill="#843804"/>
<ellipse transform="translate(376.1 178.2) rotate(60)" rx="7.7" ry="2.1" fill="#843804"/>
<ellipse transform="translate(363.8 190.8) rotate(-71)" rx="7.0" ry="2.0" fill="#843804"/>
<ellipse transform="translate(355.5 203.8) rotate(27)" rx="5.3" ry="2.2" fill="#843804"/>
<ellipse transform="translate(416.6 152.7) rotate(55)" rx="5.9" ry="2.2" fill="#843804"/>
<ellipse transform="translate(426.0 153.2) rotate(-45)" rx="5.9" ry="2.3" fill="#843804"/>
<ellipse transform="translate(442.4 171.8) rotate(-64)" rx="4.5" ry="2.1" fill="#843804"/>
<ellipse transform="translate(412.8 160.1) rotate(34)" rx="4.7" ry="2.3" fill="#843804"/>
<ellipse transform="translate(391.4 147.3) rotate(70)" rx="5.3" ry="2.1" fill="#843804"/>
<ellipse transform="translate(413.7 174.6) rotate(-63)" rx="5.4" ry="2.3" fill="#843804"/>
<ellipse transform="translate(472.4 162.3) rotate(18)" rx="5.7" ry="2.1" fill="#843804"/>
<ellipse transform="translate(485.6 169.1) rotate(79)" rx="6.0" ry="2.1" fill="#843804"/>
<ellipse transform="translate(430.5 184.6) rotate(0)" rx="4.6" ry="2.5" fill="#843804"/>
<ellipse transform="translate(433.2 182.3) rotate(62)" rx="6.1" ry="2.0" fill="#843804"/>
<ellipse transform="translate(437.8 190.6) rotate(60)" rx="6.1" ry="2.2" fill="#843804"/>
<ellipse transform="translate(401.4 190.8) rotate(-41)" rx="4.4" ry="2.2" fill="#843804"/>
<ellipse transform="translate(300.0 25.5) rotate(70)" rx="7.3" ry="2.2" fill="#964405"/>
<ellipse transform="translate(303.8 36.0) rotate(71)" rx="6.7" ry="2.3" fill="#964405"/>
<ellipse transform="translate(306.8 45.2) rotate(72)" rx="6.9" ry="2.5" fill="#964405"/>
<ellipse transform="translate(314.2 52.0) rotate(-48)" rx="11.5" ry="4.2" fill="#964405"/>
<ellipse transform="translate(327.4 47.8) rotate(-27)" rx="8.5" ry="2.5" fill="#964405"/>
<ellipse transform="translate(301.1 72.7) rotate(-58)" rx="6.9" ry="2.9" fill="#964405"/>
<ellipse transform="translate(307.0 63.6) rotate(-56)" rx="6.7" ry="2.9" fill="#964405"/>
<ellipse transform="translate(323.2 67.4) rotate(-38)" rx="8.9" ry="2.4" fill="#964405"/>
<ellipse transform="translate(361.5 60.5) rotate(52)" rx="6.6" ry="2.4" fill="#964405"/>
<ellipse transform="translate(377.9 55.1) rotate(-17)" rx="12.4" ry="2.2" fill="#964405"/>
<ellipse transform="translate(441.5 30.0) rotate(18)" rx="10.5" ry="3.1" fill="#964405"/>
<ellipse transform="translate(442.8 34.1) rotate(8)" rx="10.6" ry="3.7" fill="#964405"/>
<ellipse transform="translate(459.6 27.3) rotate(-43)" rx="10.8" ry="4.7" fill="#964405"/>
<ellipse transform="translate(467.9 18.2) rotate(-63)" rx="4.4" ry="2.6" fill="#964405"/>
<ellipse transform="translate(440.6 40.0) rotate(6)" rx="11.0" ry="2.9" fill="#964405"/>
<ellipse transform="translate(451.5 37.5) rotate(4)" rx="7.9" ry="3.9" fill="#964405"/>
<ellipse transform="translate(465.6 49.2) rotate(0)" rx="11.4" ry="3.5" fill="#964405"/>
<ellipse transform="translate(448.5 53.5) rotate(18)" rx="9.3" ry="2.9" fill="#964405"/>
<ellipse transform="translate(463.1 58.5) rotate(20)" rx="8.9" ry="2.7" fill="#964405"/>
<ellipse transform="translate(454.0 44.5) rotate(-4)" rx="9.4" ry="2.7" fill="#964405"/>
<ellipse transform="translate(410.1 61.9) rotate(53)" rx="5.9" ry="2.4" fill="#964405"/>
<ellipse transform="translate(438.2 68.3) rotate(63)" rx="5.5" ry="2.3" fill="#964405"/>
<ellipse transform="translate(480.6 71.4) rotate(32)" rx="7.3" ry="2.9" fill="#964405"/>
<ellipse transform="translate(304.6 77.3) rotate(-8)" rx="10.6" ry="2.4" fill="#964405"/>
<ellipse transform="translate(348.2 82.0) rotate(11)" rx="6.7" ry="2.9" fill="#964405"/>
<ellipse transform="translate(315.0 96.0) rotate(-4)" rx="13.9" ry="2.9" fill="#964405"/>
<ellipse transform="translate(327.4 102.8) rotate(6)" rx="12.3" ry="3.3" fill="#964405"/>
<ellipse transform="translate(367.1 131.0) rotate(9)" rx="9.1" ry="3.1" fill="#964405"/>
<ellipse transform="translate(445.1 124.3) rotate(-1)" rx="7.2" ry="2.7" fill="#964405"/>
<ellipse transform="translate(413.6 138.8) rotate(0)" rx="6.9" ry="2.5" fill="#964405"/>
<ellipse transform="translate(481.9 102.8) rotate(6)" rx="6.0" ry="2.3" fill="#964405"/>
<ellipse transform="translate(359.2 150.9) rotate(-57)" rx="12.5" ry="3.0" fill="#964405"/>
<ellipse transform="translate(351.5 189.2) rotate(57)" rx="10.9" ry="3.3" fill="#964405"/>
<ellipse transform="translate(360.6 199.8) rotate(-70)" rx="5.5" ry="2.1" fill="#964405"/>
<ellipse transform="translate(439.1 144.2) rotate(35)" rx="6.9" ry="2.5" fill="#964405"/>
<ellipse transform="translate(434.9 158.8) rotate(63)" rx="5.0" ry="2.7" fill="#964405"/>
<ellipse transform="translate(438.5 162.1) rotate(59)" rx="6.2" ry="3.3" fill="#964405"/>
<ellipse transform="translate(460.0 175.6) rotate(-8)" rx="7.0" ry="2.9" fill="#964405"/>
<ellipse transform="translate(455.5 202.5) rotate(45)" rx="5.6" ry="5.4" fill="#964405"/>
<ellipse transform="translate(452.5 198.8) rotate(56)" rx="4.1" ry="2.9" fill="#964405"/>
<ellipse transform="translate(312.0 34.3) rotate(0)" rx="7.6" ry="0.9" fill="#9a4405"/>
<ellipse transform="translate(366.1 26.4) rotate(50)" rx="4.1" ry="1.0" fill="#9a4405"/>
<ellipse transform="translate(378.3 46.0) rotate(9)" rx="3.3" ry="0.8" fill="#9a4405"/>
<ellipse transform="translate(364.7 68.8) rotate(51)" rx="3.5" ry="1.0" fill="#9a4405"/>
<ellipse transform="translate(348.2 68.2) rotate(45)" rx="3.1" ry="0.8" fill="#9a4405"/>
<ellipse transform="translate(334.6 65.5) rotate(19)" rx="3.5" ry="0.8" fill="#9a4405"/>
<ellipse transform="translate(368.3 41.4) rotate(52)" rx="3.5" ry="0.9" fill="#9a4405"/>
<ellipse transform="translate(472.9 27.3) rotate(-44)" rx="4.5" ry="0.9" fill="#9a4405"/>
<ellipse transform="translate(401.9 48.2) rotate(56)" rx="3.9" ry="1.0" fill="#9a4405"/>
<ellipse transform="translate(417.4 52.4) rotate(6)" rx="4.3" ry="0.8" fill="#9a4405"/>
<ellipse transform="translate(426.9 52.9) rotate(-20)" rx="3.1" ry="0.8" fill="#9a4405"/>
<ellipse transform="translate(394.1 18.2) rotate(38)" rx="3.5" ry="0.9" fill="#9a4405"/>
<ellipse transform="translate(319.6 111.4) rotate(-57)" rx="4.9" ry="0.8" fill="#9a4405"/>
<ellipse transform="translate(467.8 76.8) rotate(31)" rx="2.1" ry="0.8" fill="#9a4405"/>
<ellipse transform="translate(463.2 114.8) rotate(45)" rx="2.4" ry="0.8" fill="#9a4405"/>
<ellipse transform="translate(310.0 148.8) rotate(7)" rx="2.6" ry="0.7" fill="#9a4405"/>
<ellipse transform="translate(386.4 162.8) rotate(52)" rx="6.4" ry="0.9" fill="#9a4405"/>
<ellipse transform="translate(315.5 179.2) rotate(9)" rx="2.1" ry="0.7" fill="#9a4405"/>
<ellipse transform="translate(462.2 144.5) rotate(76)" rx="3.7" ry="0.8" fill="#9a4405"/>
<ellipse transform="translate(406.0 145.0) rotate(14)" rx="2.7" ry="0.8" fill="#9a4405"/>
<ellipse transform="translate(466.5 180.0) rotate(27)" rx="2.8" ry="0.8" fill="#9a4405"/>
<ellipse transform="translate(329.0 30.4) rotate(7)" rx="7.7" ry="0.9" fill="#c87208"/>
<ellipse transform="translate(331.5 40.9) rotate(3)" rx="6.1" ry="1.0" fill="#c87208"/>
<ellipse transform="translate(337.6 43.5) rotate(77)" rx="3.2" ry="0.9" fill="#c87208"/>
<ellipse transform="translate(338.6 28.4) rotate(23)" rx="1.0" ry="1.2" fill="#c87208"/>
<ellipse transform="translate(335.9 43.0) rotate(-36)" rx="3.3" ry="0.9" fill="#c87208"/>
<ellipse transform="translate(368.4 49.2) rotate(-56)" rx="7.2" ry="1.0" fill="#c87208"/>
<ellipse transform="translate(387.4 36.4) rotate(19)" rx="3.4" ry="1.0" fill="#c87208"/>
<ellipse transform="translate(340.0 76.0) rotate(53)" rx="5.6" ry="1.0" fill="#c87208"/>
<ellipse transform="translate(444.0 36.0) rotate(9)" rx="13.8" ry="6.5" fill="#c87208"/>
<ellipse transform="translate(458.5 25.0) rotate(-32)" rx="11.8" ry="4.5" fill="#c87208"/>
<ellipse transform="translate(459.0 52.5) rotate(6)" rx="15.7" ry="5.0" fill="#c87208"/>
<ellipse transform="translate(453.0 44.0) rotate(4)" rx="13.6" ry="4.0" fill="#c87208"/>
<ellipse transform="translate(421.9 37.8) rotate(-3)" rx="10.6" ry="0.9" fill="#c87208"/>
<ellipse transform="translate(408.7 40.0) rotate(-49)" rx="5.5" ry="1.1" fill="#c87208"/>
<ellipse transform="translate(449.6 23.6) rotate(-64)" rx="3.7" ry="1.1" fill="#c87208"/>
<ellipse transform="translate(446.0 18.2) rotate(52)" rx="2.9" ry="1.0" fill="#c87208"/>
<ellipse transform="translate(479.2 42.3) rotate(-7)" rx="4.3" ry="1.1" fill="#c87208"/>
<ellipse transform="translate(393.6 28.6) rotate(20)" rx="4.5" ry="1.0" fill="#c87208"/>
<ellipse transform="translate(392.8 36.4) rotate(18)" rx="3.5" ry="0.9" fill="#c87208"/>
<ellipse transform="translate(413.2 73.2) rotate(74)" rx="5.6" ry="1.1" fill="#c87208"/>
<ellipse transform="translate(472.0 63.8) rotate(22)" rx="2.8" ry="1.0" fill="#c87208"/>
<ellipse transform="translate(486.2 62.4) rotate(47)" rx="2.4" ry="1.0" fill="#c87208"/>
<ellipse transform="translate(460.0 19.5) rotate(51)" rx="3.8" ry="1.0" fill="#c87208"/>
<ellipse transform="translate(308.2 81.4) rotate(79)" rx="5.3" ry="1.0" fill="#c87208"/>
<ellipse transform="translate(314.1 82.3) rotate(59)" rx="4.9" ry="1.0" fill="#c87208"/>
<ellipse transform="translate(336.1 80.4) rotate(-59)" rx="4.8" ry="1.1" fill="#c87208"/>
<ellipse transform="translate(337.1 121.5) rotate(65)" rx="5.6" ry="1.2" fill="#c87208"/>
<ellipse transform="translate(330.0 109.5) rotate(40)" rx="4.5" ry="1.0" fill="#c87208"/>
<ellipse transform="translate(379.7 122.8) rotate(65)" rx="8.1" ry="1.0" fill="#c87208"/>
<ellipse transform="translate(385.5 130.5) rotate(45)" rx="7.0" ry="1.0" fill="#c87208"/>
<ellipse transform="translate(357.9 134.7) rotate(-67)" rx="4.0" ry="1.0" fill="#c87208"/>
<ellipse transform="translate(378.5 134.8) rotate(17)" rx="3.2" ry="1.0" fill="#c87208"/>
<ellipse transform="translate(327.5 141.8) rotate(40)" rx="2.6" ry="1.0" fill="#c87208"/>
<ellipse transform="translate(421.4 88.7) rotate(60)" rx="6.9" ry="1.0" fill="#c87208"/>
<ellipse transform="translate(440.2 106.0) rotate(15)" rx="4.5" ry="1.1" fill="#c87208"/>
<ellipse transform="translate(422.8 120.5) rotate(14)" rx="4.4" ry="1.1" fill="#c87208"/>
<ellipse transform="translate(432.4 134.7) rotate(54)" rx="9.1" ry="1.2" fill="#c87208"/>
<ellipse transform="translate(424.6 136.8) rotate(-13)" rx="6.2" ry="1.1" fill="#c87208"/>
<ellipse transform="translate(445.5 135.6) rotate(66)" rx="5.1" ry="1.1" fill="#c87208"/>
<ellipse transform="translate(468.9 133.8) rotate(-3)" rx="6.7" ry="1.1" fill="#c87208"/>
<ellipse transform="translate(473.8 122.8) rotate(7)" rx="4.3" ry="1.1" fill="#c87208"/>
<ellipse transform="translate(391.4 120.6) rotate(54)" rx="2.9" ry="1.1" fill="#c87208"/>
<ellipse transform="translate(391.8 126.5) rotate(-16)" rx="2.5" ry="1.0" fill="#c87208"/>
<ellipse transform="translate(406.5 78.8) rotate(60)" rx="2.6" ry="0.8" fill="#c87208"/>
<ellipse transform="translate(365.1 150.9) rotate(70)" rx="4.5" ry="1.1" fill="#c87208"/>
<ellipse transform="translate(335.5 161.9) rotate(26)" rx="2.7" ry="1.0" fill="#c87208"/>
<ellipse transform="translate(382.4 187.4) rotate(11)" rx="5.7" ry="1.1" fill="#c87208"/>
<ellipse transform="translate(380.6 195.1) rotate(-45)" rx="3.9" ry="1.1" fill="#c87208"/>
<ellipse transform="translate(387.8 197.3) rotate(51)" rx="4.1" ry="1.2" fill="#c87208"/>
<ellipse transform="translate(297.0 206.5) rotate(56)" rx="2.4" ry="1.1" fill="#c87208"/>
<ellipse transform="translate(411.6 145.8) rotate(52)" rx="4.6" ry="1.1" fill="#c87208"/>
<ellipse transform="translate(426.9 147.3) rotate(16)" rx="3.9" ry="1.0" fill="#c87208"/>
<ellipse transform="translate(444.3 150.4) rotate(68)" rx="4.0" ry="1.0" fill="#c87208"/>
<ellipse transform="translate(453.8 141.8) rotate(-44)" rx="3.2" ry="1.1" fill="#c87208"/>
<ellipse transform="translate(436.9 168.2) rotate(-8)" rx="6.6" ry="1.1" fill="#c87208"/>
<ellipse transform="translate(396.4 160.5) rotate(61)" rx="4.3" ry="1.1" fill="#c87208"/>
<ellipse transform="translate(465.6 164.1) rotate(73)" rx="6.8" ry="1.1" fill="#c87208"/>
<ellipse transform="translate(455.1 191.4) rotate(61)" rx="5.3" ry="1.0" fill="#c87208"/>
<ellipse transform="translate(396.9 194.1) rotate(-18)" rx="2.0" ry="0.9" fill="#c87208"/>
<ellipse transform="translate(391.8 201.4) rotate(70)" rx="6.0" ry="1.2" fill="#c87208"/>
<ellipse transform="translate(316.4 18.6) rotate(49)" rx="4.7" ry="1.2" fill="#e29614"/>
<ellipse transform="translate(297.5 39.0) rotate(53)" rx="3.1" ry="1.1" fill="#e29614"/>
<ellipse transform="translate(318.2 28.1) rotate(16)" rx="6.6" ry="2.1" fill="#e29614"/>
<ellipse transform="translate(300.1 53.7) rotate(11)" rx="5.2" ry="1.5" fill="#e29614"/>
<ellipse transform="translate(327.8 59.1) rotate(49)" rx="5.5" ry="1.4" fill="#e29614"/>
<ellipse transform="translate(305.2 67.0) rotate(71)" rx="5.9" ry="1.4" fill="#e29614"/>
<ellipse transform="translate(298.0 44.0) rotate(69)" rx="4.9" ry="1.2" fill="#e29614"/>
<ellipse transform="translate(313.0 47.0) rotate(56)" rx="4.2" ry="1.2" fill="#e29614"/>
<ellipse transform="translate(298.0 61.0) rotate(124)" rx="4.2" ry="1.2" fill="#e29614"/>
<ellipse transform="translate(316.5 72.0) rotate(49)" rx="5.9" ry="1.4" fill="#e29614"/>
<ellipse transform="translate(427.4 21.9) rotate(-63)" rx="4.7" ry="1.2" fill="#e29614"/>
<ellipse transform="translate(470.0 53.5) rotate(14)" rx="4.7" ry="1.3" fill="#e29614"/>
<ellipse transform="translate(454.0 44.5) rotate(51)" rx="3.8" ry="1.2" fill="#e29614"/>
<ellipse transform="translate(321.9 86.0) rotate(71)" rx="6.4" ry="1.4" fill="#e29614"/>
<ellipse transform="translate(331.6 88.2) rotate(-60)" rx="5.4" ry="1.2" fill="#e29614"/>
<ellipse transform="translate(333.0 114.2) rotate(54)" rx="4.0" ry="1.2" fill="#e29614"/>
<ellipse transform="translate(365.1 110.1) rotate(7)" rx="11.1" ry="1.2" fill="#e29614"/>
<ellipse transform="translate(377.9 110.1) rotate(-61)" rx="5.3" ry="1.2" fill="#e29614"/>
<ellipse transform="translate(365.1 140.6) rotate(-22)" rx="3.0" ry="1.2" fill="#e29614"/>
<ellipse transform="translate(387.8 93.2) rotate(39)" rx="3.4" ry="1.2" fill="#e29614"/>
<ellipse transform="translate(410.9 81.8) rotate(115)" rx="7.1" ry="1.2" fill="#e29614"/>
<ellipse transform="translate(413.2 89.1) rotate(32)" rx="3.2" ry="1.2" fill="#e29614"/>
<ellipse transform="translate(454.6 90.9) rotate(-41)" rx="5.5" ry="1.2" fill="#e29614"/>
<ellipse transform="translate(412.8 106.5) rotate(55)" rx="10.1" ry="1.4" fill="#e29614"/>
<ellipse transform="translate(392.3 101.8) rotate(54)" rx="4.5" ry="1.3" fill="#e29614"/>
<ellipse transform="translate(447.1 109.2) rotate(36)" rx="4.4" ry="1.2" fill="#e29614"/>
<ellipse transform="translate(449.2 116.9) rotate(99)" rx="6.2" ry="1.2" fill="#e29614"/>
<ellipse transform="translate(426.0 123.8) rotate(80)" rx="8.5" ry="1.4" fill="#e29614"/>
<ellipse transform="translate(457.9 137.8) rotate(-36)" rx="6.8" ry="1.2" fill="#e29614"/>
<ellipse transform="translate(480.8 133.4) rotate(-1)" rx="6.4" ry="1.4" fill="#e29614"/>
<ellipse transform="translate(485.1 80.5) rotate(76)" rx="6.3" ry="1.2" fill="#e29614"/>
<ellipse transform="translate(330.1 146.0) rotate(48)" rx="7.4" ry="1.4" fill="#e29614"/>
<ellipse transform="translate(321.9 150.9) rotate(30)" rx="8.0" ry="1.4" fill="#e29614"/>
<ellipse transform="translate(368.4 171.9) rotate(8)" rx="7.0" ry="1.2" fill="#e29614"/>
<ellipse transform="translate(376.1 178.2) rotate(60)" rx="6.9" ry="1.2" fill="#e29614"/>
<ellipse transform="translate(363.8 190.8) rotate(-71)" rx="6.2" ry="1.1" fill="#e29614"/>
<ellipse transform="translate(355.5 203.8) rotate(27)" rx="4.5" ry="1.3" fill="#e29614"/>
<ellipse transform="translate(416.6 152.7) rotate(55)" rx="5.1" ry="1.3" fill="#e29614"/>
<ellipse transform="translate(426.0 153.2) rotate(-45)" rx="5.1" ry="1.4" fill="#e29614"/>
<ellipse transform="translate(442.4 171.8) rotate(-64)" rx="3.7" ry="1.2" fill="#e29614"/>
<ellipse transform="translate(412.8 160.1) rotate(34)" rx="3.9" ry="1.4" fill="#e29614"/>
<ellipse transform="translate(391.4 147.3) rotate(70)" rx="4.5" ry="1.2" fill="#e29614"/>
<ellipse transform="translate(413.7 174.6) rotate(-63)" rx="4.6" ry="1.4" fill="#e29614"/>
<ellipse transform="translate(472.4 162.3) rotate(18)" rx="4.9" ry="1.2" fill="#e29614"/>
<ellipse transform="translate(485.6 169.1) rotate(79)" rx="5.2" ry="1.2" fill="#e29614"/>
<ellipse transform="translate(430.5 184.6) rotate(0)" rx="3.8" ry="1.6" fill="#e29614"/>
<ellipse transform="translate(433.2 182.3) rotate(62)" rx="5.3" ry="1.1" fill="#e29614"/>
<ellipse transform="translate(437.8 190.6) rotate(60)" rx="5.3" ry="1.3" fill="#e29614"/>
<ellipse transform="translate(401.4 190.8) rotate(-41)" rx="3.6" ry="1.3" fill="#e29614"/>
<ellipse transform="translate(300.0 25.5) rotate(70)" rx="6.5" ry="1.3" fill="#f0b22a"/>
<ellipse transform="translate(303.8 36.0) rotate(71)" rx="5.9" ry="1.4" fill="#f0b22a"/>
<ellipse transform="translate(306.8 45.2) rotate(72)" rx="6.1" ry="1.6" fill="#f0b22a"/>
<ellipse transform="translate(314.2 52.0) rotate(-48)" rx="10.7" ry="3.3" fill="#f0b22a"/>
<ellipse transform="translate(327.4 47.8) rotate(-27)" rx="7.7" ry="1.6" fill="#f0b22a"/>
<ellipse transform="translate(301.1 72.7) rotate(-58)" rx="6.1" ry="2.0" fill="#f0b22a"/>
<ellipse transform="translate(307.0 63.6) rotate(-56)" rx="5.9" ry="2.0" fill="#f0b22a"/>
<ellipse transform="translate(323.2 67.4) rotate(-38)" rx="8.1" ry="1.5" fill="#f0b22a"/>
<ellipse transform="translate(361.5 60.5) rotate(52)" rx="5.8" ry="1.5" fill="#f0b22a"/>
<ellipse transform="translate(377.9 55.1) rotate(-17)" rx="11.6" ry="1.3" fill="#f0b22a"/>
<ellipse transform="translate(441.5 30.0) rotate(18)" rx="9.7" ry="2.2" fill="#f0b22a"/>
<ellipse transform="translate(442.8 34.1) rotate(8)" rx="9.8" ry="2.8" fill="#f0b22a"/>
<ellipse transform="translate(459.6 27.3) rotate(-43)" rx="10.0" ry="3.8" fill="#f0b22a"/>
<ellipse transform="translate(467.9 18.2) rotate(-63)" rx="3.6" ry="1.7" fill="#f0b22a"/>
<ellipse transform="translate(440.6 40.0) rotate(6)" rx="10.2" ry="2.0" fill="#f0b22a"/>
<ellipse transform="translate(451.5 37.5) rotate(4)" rx="7.1" ry="3.0" fill="#f0b22a"/>
<ellipse transform="translate(465.6 49.2) rotate(0)" rx="10.6" ry="2.6" fill="#f0b22a"/>
<ellipse transform="translate(448.5 53.5) rotate(18)" rx="8.5" ry="2.0" fill="#f0b22a"/>
<ellipse transform="translate(463.1 58.5) rotate(20)" rx="8.1" ry="1.8" fill="#f0b22a"/>
<ellipse transform="translate(454.0 44.5) rotate(-4)" rx="8.6" ry="1.8" fill="#f0b22a"/>
<ellipse transform="translate(410.1 61.9) rotate(53)" rx="5.1" ry="1.5" fill="#f0b22a"/>
<ellipse transform="translate(438.2 68.3) rotate(63)" rx="4.7" ry="1.4" fill="#f0b22a"/>
<ellipse transform="translate(480.6 71.4) rotate(32)" rx="6.5" ry="2.0" fill="#f0b22a"/>
<ellipse transform="translate(304.6 77.3) rotate(-8)" rx="9.8" ry="1.5" fill="#f0b22a"/>
<ellipse transform="translate(348.2 82.0) rotate(11)" rx="5.9" ry="2.0" fill="#f0b22a"/>
<ellipse transform="translate(315.0 96.0) rotate(-4)" rx="13.1" ry="2.0" fill="#f0b22a"/>
<ellipse transform="translate(327.4 102.8) rotate(6)" rx="11.5" ry="2.4" fill="#f0b22a"/>
<ellipse transform="translate(367.1 131.0) rotate(9)" rx="8.3" ry="2.2" fill="#f0b22a"/>
<ellipse transform="translate(445.1 124.3) rotate(-1)" rx="6.4" ry="1.8" fill="#f0b22a"/>
<ellipse transform="translate(413.6 138.8) rotate(0)" rx="6.1" ry="1.6" fill="#f0b22a"/>
<ellipse transform="translate(481.9 102.8) rotate(6)" rx="5.2" ry="1.4" fill="#f0b22a"/>
<ellipse transform="translate(359.2 150.9) rotate(-57)" rx="11.7" ry="2.1" fill="#f0b22a"/>
<ellipse transform="translate(351.5 189.2) rotate(57)" rx="10.1" ry="2.4" fill="#f0b22a"/>
<ellipse transform="translate(360.6 199.8) rotate(-70)" rx="4.7" ry="1.2" fill="#f0b22a"/>
<ellipse transform="translate(439.1 144.2) rotate(35)" rx="6.1" ry="1.6" fill="#f0b22a"/>
<ellipse transform="translate(434.9 158.8) rotate(63)" rx="4.2" ry="1.8" fill="#f0b22a"/>
<ellipse transform="translate(438.5 162.1) rotate(59)" rx="5.4" ry="2.4" fill="#f0b22a"/>
<ellipse transform="translate(460.0 175.6) rotate(-8)" rx="6.2" ry="2.0" fill="#f0b22a"/>
<ellipse transform="translate(455.5 202.5) rotate(45)" rx="4.8" ry="4.5" fill="#f0b22a"/>
<ellipse transform="translate(452.5 198.8) rotate(56)" rx="3.3" ry="2.0" fill="#f0b22a"/>
<ellipse transform="translate(329.0 30.4) rotate(7)" rx="6.3" ry="0.4" fill="#e09a18"/>
<ellipse transform="translate(331.5 40.9) rotate(3)" rx="4.7" ry="0.5" fill="#e09a18"/>
<ellipse transform="translate(337.6 43.5) rotate(77)" rx="1.8" ry="0.4" fill="#e09a18"/>
<ellipse transform="translate(338.6 28.4) rotate(23)" rx="0.2" ry="0.5" fill="#e09a18"/>
<ellipse transform="translate(335.9 43.0) rotate(-36)" rx="1.9" ry="0.4" fill="#e09a18"/>
<ellipse transform="translate(368.4 49.2) rotate(-56)" rx="5.8" ry="0.5" fill="#e09a18"/>
<ellipse transform="translate(387.4 36.4) rotate(19)" rx="2.0" ry="0.5" fill="#e09a18"/>
<ellipse transform="translate(340.0 76.0) rotate(53)" rx="4.2" ry="0.5" fill="#e09a18"/>
<ellipse transform="translate(444.0 36.0) rotate(9)" rx="12.4" ry="5.8" fill="#e09a18"/>
<ellipse transform="translate(458.5 25.0) rotate(-32)" rx="10.4" ry="3.8" fill="#e09a18"/>
<ellipse transform="translate(459.0 52.5) rotate(6)" rx="14.3" ry="4.3" fill="#e09a18"/>
<ellipse transform="translate(453.0 44.0) rotate(4)" rx="12.2" ry="3.3" fill="#e09a18"/>
<ellipse transform="translate(421.9 37.8) rotate(-3)" rx="9.2" ry="0.4" fill="#e09a18"/>
<ellipse transform="translate(408.7 40.0) rotate(-49)" rx="4.1" ry="0.5" fill="#e09a18"/>
<ellipse transform="translate(449.6 23.6) rotate(-64)" rx="2.3" ry="0.5" fill="#e09a18"/>
<ellipse transform="translate(446.0 18.2) rotate(52)" rx="1.5" ry="0.5" fill="#e09a18"/>
<ellipse transform="translate(479.2 42.3) rotate(-7)" rx="2.9" ry="0.5" fill="#e09a18"/>
<ellipse transform="translate(393.6 28.6) rotate(20)" rx="3.1" ry="0.5" fill="#e09a18"/>
<ellipse transform="translate(392.8 36.4) rotate(18)" rx="2.1" ry="0.4" fill="#e09a18"/>
<ellipse transform="translate(413.2 73.2) rotate(74)" rx="4.2" ry="0.5" fill="#e09a18"/>
<ellipse transform="translate(472.0 63.8) rotate(22)" rx="1.4" ry="0.5" fill="#e09a18"/>
<ellipse transform="translate(486.2 62.4) rotate(47)" rx="1.0" ry="0.5" fill="#e09a18"/>
<ellipse transform="translate(460.0 19.5) rotate(51)" rx="2.4" ry="0.5" fill="#e09a18"/>
<ellipse transform="translate(308.2 81.4) rotate(79)" rx="3.9" ry="0.5" fill="#e09a18"/>
<ellipse transform="translate(314.1 82.3) rotate(59)" rx="3.5" ry="0.5" fill="#e09a18"/>
<ellipse transform="translate(336.1 80.4) rotate(-59)" rx="3.4" ry="0.5" fill="#e09a18"/>
<ellipse transform="translate(337.1 121.5) rotate(65)" rx="4.2" ry="0.5" fill="#e09a18"/>
<ellipse transform="translate(330.0 109.5) rotate(40)" rx="3.1" ry="0.5" fill="#e09a18"/>
<ellipse transform="translate(379.7 122.8) rotate(65)" rx="6.7" ry="0.5" fill="#e09a18"/>
<ellipse transform="translate(385.5 130.5) rotate(45)" rx="5.6" ry="0.5" fill="#e09a18"/>
<ellipse transform="translate(357.9 134.7) rotate(-67)" rx="2.6" ry="0.5" fill="#e09a18"/>
<ellipse transform="translate(378.5 134.8) rotate(17)" rx="1.8" ry="0.5" fill="#e09a18"/>
<ellipse transform="translate(327.5 141.8) rotate(40)" rx="1.2" ry="0.5" fill="#e09a18"/>
<ellipse transform="translate(421.4 88.7) rotate(60)" rx="5.5" ry="0.5" fill="#e09a18"/>
<ellipse transform="translate(440.2 106.0) rotate(15)" rx="3.1" ry="0.5" fill="#e09a18"/>
<ellipse transform="translate(422.8 120.5) rotate(14)" rx="3.0" ry="0.5" fill="#e09a18"/>
<ellipse transform="translate(432.4 134.7) rotate(54)" rx="7.7" ry="0.5" fill="#e09a18"/>
<ellipse transform="translate(424.6 136.8) rotate(-13)" rx="4.8" ry="0.5" fill="#e09a18"/>
<ellipse transform="translate(445.5 135.6) rotate(66)" rx="3.7" ry="0.5" fill="#e09a18"/>
<ellipse transform="translate(468.9 133.8) rotate(-3)" rx="5.3" ry="0.5" fill="#e09a18"/>
<ellipse transform="translate(473.8 122.8) rotate(7)" rx="2.9" ry="0.5" fill="#e09a18"/>
<ellipse transform="translate(391.4 120.6) rotate(54)" rx="1.5" ry="0.5" fill="#e09a18"/>
<ellipse transform="translate(391.8 126.5) rotate(-16)" rx="1.1" ry="0.5" fill="#e09a18"/>
<ellipse transform="translate(406.5 78.8) rotate(60)" rx="1.2" ry="0.4" fill="#e09a18"/>
<ellipse transform="translate(365.1 150.9) rotate(70)" rx="3.1" ry="0.5" fill="#e09a18"/>
<ellipse transform="translate(335.5 161.9) rotate(26)" rx="1.3" ry="0.5" fill="#e09a18"/>
<ellipse transform="translate(382.4 187.4) rotate(11)" rx="4.3" ry="0.5" fill="#e09a18"/>
<ellipse transform="translate(380.6 195.1) rotate(-45)" rx="2.5" ry="0.5" fill="#e09a18"/>
<ellipse transform="translate(387.8 197.3) rotate(51)" rx="2.7" ry="0.5" fill="#e09a18"/>
<ellipse transform="translate(297.0 206.5) rotate(56)" rx="1.0" ry="0.5" fill="#e09a18"/>
<ellipse transform="translate(411.6 145.8) rotate(52)" rx="3.2" ry="0.5" fill="#e09a18"/>
<ellipse transform="translate(426.9 147.3) rotate(16)" rx="2.5" ry="0.5" fill="#e09a18"/>
<ellipse transform="translate(444.3 150.4) rotate(68)" rx="2.6" ry="0.5" fill="#e09a18"/>
<ellipse transform="translate(453.8 141.8) rotate(-44)" rx="1.8" ry="0.5" fill="#e09a18"/>
<ellipse transform="translate(436.9 168.2) rotate(-8)" rx="5.2" ry="0.5" fill="#e09a18"/>
<ellipse transform="translate(396.4 160.5) rotate(61)" rx="2.9" ry="0.5" fill="#e09a18"/>
<ellipse transform="translate(465.6 164.1) rotate(73)" rx="5.4" ry="0.5" fill="#e09a18"/>
<ellipse transform="translate(455.1 191.4) rotate(61)" rx="3.9" ry="0.5" fill="#e09a18"/>
<ellipse transform="translate(396.9 194.1) rotate(-18)" rx="0.7" ry="0.4" fill="#e09a18"/>
<ellipse transform="translate(391.8 201.4) rotate(70)" rx="4.6" ry="0.5" fill="#e09a18"/>
<ellipse transform="translate(316.4 18.6) rotate(49)" rx="3.3" ry="0.5" fill="#f8cc44"/>
<ellipse transform="translate(297.5 39.0) rotate(53)" rx="1.7" ry="0.5" fill="#f8cc44"/>
<ellipse transform="translate(318.2 28.1) rotate(16)" rx="5.2" ry="1.4" fill="#f8cc44"/>
<ellipse transform="translate(300.1 53.7) rotate(11)" rx="3.8" ry="0.8" fill="#f8cc44"/>
<ellipse transform="translate(327.8 59.1) rotate(49)" rx="4.1" ry="0.7" fill="#f8cc44"/>
<ellipse transform="translate(305.2 67.0) rotate(71)" rx="4.5" ry="0.7" fill="#f8cc44"/>
<ellipse transform="translate(298.0 44.0) rotate(69)" rx="3.5" ry="0.6" fill="#f8cc44"/>
<ellipse transform="translate(313.0 47.0) rotate(56)" rx="2.8" ry="0.6" fill="#f8cc44"/>
<ellipse transform="translate(298.0 61.0) rotate(124)" rx="2.8" ry="0.6" fill="#f8cc44"/>
<ellipse transform="translate(316.5 72.0) rotate(49)" rx="4.5" ry="0.7" fill="#f8cc44"/>
<ellipse transform="translate(427.4 21.9) rotate(-63)" rx="3.3" ry="0.5" fill="#f8cc44"/>
<ellipse transform="translate(470.0 53.5) rotate(14)" rx="3.3" ry="0.6" fill="#f8cc44"/>
<ellipse transform="translate(454.0 44.5) rotate(51)" rx="2.4" ry="0.5" fill="#f8cc44"/>
<ellipse transform="translate(321.9 86.0) rotate(71)" rx="5.0" ry="0.7" fill="#f8cc44"/>
<ellipse transform="translate(331.6 88.2) rotate(-60)" rx="4.0" ry="0.5" fill="#f8cc44"/>
<ellipse transform="translate(333.0 114.2) rotate(54)" rx="2.6" ry="0.5" fill="#f8cc44"/>
<ellipse transform="translate(365.1 110.1) rotate(7)" rx="9.7" ry="0.5" fill="#f8cc44"/>
<ellipse transform="translate(377.9 110.1) rotate(-61)" rx="3.9" ry="0.5" fill="#f8cc44"/>
<ellipse transform="translate(365.1 140.6) rotate(-22)" rx="1.6" ry="0.5" fill="#f8cc44"/>
<ellipse transform="translate(387.8 93.2) rotate(39)" rx="2.0" ry="0.5" fill="#f8cc44"/>
<ellipse transform="translate(410.9 81.8) rotate(115)" rx="5.7" ry="0.5" fill="#f8cc44"/>
<ellipse transform="translate(413.2 89.1) rotate(32)" rx="1.8" ry="0.5" fill="#f8cc44"/>
<ellipse transform="translate(454.6 90.9) rotate(-41)" rx="4.1" ry="0.5" fill="#f8cc44"/>
<ellipse transform="translate(412.8 106.5) rotate(55)" rx="8.7" ry="0.7" fill="#f8cc44"/>
<ellipse transform="translate(392.3 101.8) rotate(54)" rx="3.1" ry="0.6" fill="#f8cc44"/>
<ellipse transform="translate(447.1 109.2) rotate(36)" rx="3.0" ry="0.5" fill="#f8cc44"/>
<ellipse transform="translate(449.2 116.9) rotate(99)" rx="4.8" ry="0.5" fill="#f8cc44"/>
<ellipse transform="translate(426.0 123.8) rotate(80)" rx="7.1" ry="0.7" fill="#f8cc44"/>
<ellipse transform="translate(457.9 137.8) rotate(-36)" rx="5.4" ry="0.5" fill="#f8cc44"/>
<ellipse transform="translate(480.8 133.4) rotate(-1)" rx="5.0" ry="0.7" fill="#f8cc44"/>
<ellipse transform="translate(485.1 80.5) rotate(76)" rx="4.9" ry="0.5" fill="#f8cc44"/>
<ellipse transform="translate(330.1 146.0) rotate(48)" rx="6.0" ry="0.7" fill="#f8cc44"/>
<ellipse transform="translate(321.9 150.9) rotate(30)" rx="6.6" ry="0.7" fill="#f8cc44"/>
<ellipse transform="translate(368.4 171.9) rotate(8)" rx="5.6" ry="0.5" fill="#f8cc44"/>
<ellipse transform="translate(376.1 178.2) rotate(60)" rx="5.5" ry="0.5" fill="#f8cc44"/>
<ellipse transform="translate(363.8 190.8) rotate(-71)" rx="4.8" ry="0.5" fill="#f8cc44"/>
<ellipse transform="translate(355.5 203.8) rotate(27)" rx="3.1" ry="0.6" fill="#f8cc44"/>
<ellipse transform="translate(416.6 152.7) rotate(55)" rx="3.7" ry="0.6" fill="#f8cc44"/>
<ellipse transform="translate(426.0 153.2) rotate(-45)" rx="3.7" ry="0.7" fill="#f8cc44"/>
<ellipse transform="translate(442.4 171.8) rotate(-64)" rx="2.3" ry="0.5" fill="#f8cc44"/>
<ellipse transform="translate(412.8 160.1) rotate(34)" rx="2.5" ry="0.7" fill="#f8cc44"/>
<ellipse transform="translate(391.4 147.3) rotate(70)" rx="3.1" ry="0.5" fill="#f8cc44"/>
<ellipse transform="translate(413.7 174.6) rotate(-63)" rx="3.2" ry="0.7" fill="#f8cc44"/>
<ellipse transform="translate(472.4 162.3) rotate(18)" rx="3.5" ry="0.5" fill="#f8cc44"/>
<ellipse transform="translate(485.6 169.1) rotate(79)" rx="3.8" ry="0.5" fill="#f8cc44"/>
<ellipse transform="translate(430.5 184.6) rotate(0)" rx="2.4" ry="0.9" fill="#f8cc44"/>
<ellipse transform="translate(433.2 182.3) rotate(62)" rx="3.9" ry="0.5" fill="#f8cc44"/>
<ellipse transform="translate(437.8 190.6) rotate(60)" rx="3.9" ry="0.6" fill="#f8cc44"/>
<ellipse transform="translate(401.4 190.8) rotate(-41)" rx="2.2" ry="0.6" fill="#f8cc44"/>
<ellipse transform="translate(300.0 25.5) rotate(70)" rx="5.1" ry="0.6" fill="#fde884"/>
<ellipse transform="translate(303.8 36.0) rotate(71)" rx="4.5" ry="0.7" fill="#fde884"/>
<ellipse transform="translate(306.8 45.2) rotate(72)" rx="4.7" ry="0.9" fill="#fde884"/>
<ellipse transform="translate(314.2 52.0) rotate(-48)" rx="9.3" ry="2.6" fill="#fde884"/>
<ellipse transform="translate(327.4 47.8) rotate(-27)" rx="6.3" ry="0.9" fill="#fde884"/>
<ellipse transform="translate(301.1 72.7) rotate(-58)" rx="4.7" ry="1.3" fill="#fde884"/>
<ellipse transform="translate(307.0 63.6) rotate(-56)" rx="4.5" ry="1.3" fill="#fde884"/>
<ellipse transform="translate(323.2 67.4) rotate(-38)" rx="6.7" ry="0.8" fill="#fde884"/>
<ellipse transform="translate(361.5 60.5) rotate(52)" rx="4.4" ry="0.8" fill="#fde884"/>
<ellipse transform="translate(377.9 55.1) rotate(-17)" rx="10.2" ry="0.6" fill="#fde884"/>
<ellipse transform="translate(441.5 30.0) rotate(18)" rx="8.3" ry="1.5" fill="#fde884"/>
<ellipse transform="translate(442.8 34.1) rotate(8)" rx="8.4" ry="2.1" fill="#fde884"/>
<ellipse transform="translate(459.6 27.3) rotate(-43)" rx="8.6" ry="3.0" fill="#fde884"/>
<ellipse transform="translate(467.9 18.2) rotate(-63)" rx="2.2" ry="1.0" fill="#fde884"/>
<ellipse transform="translate(440.6 40.0) rotate(6)" rx="8.8" ry="1.3" fill="#fde884"/>
<ellipse transform="translate(451.5 37.5) rotate(4)" rx="5.7" ry="2.3" fill="#fde884"/>
<ellipse transform="translate(465.6 49.2) rotate(0)" rx="9.2" ry="1.9" fill="#fde884"/>
<ellipse transform="translate(448.5 53.5) rotate(18)" rx="7.1" ry="1.3" fill="#fde884"/>
<ellipse transform="translate(463.1 58.5) rotate(20)" rx="6.7" ry="1.1" fill="#fde884"/>
<ellipse transform="translate(454.0 44.5) rotate(-4)" rx="7.2" ry="1.1" fill="#fde884"/>
<ellipse transform="translate(410.1 61.9) rotate(53)" rx="3.7" ry="0.8" fill="#fde884"/>
<ellipse transform="translate(438.2 68.3) rotate(63)" rx="3.3" ry="0.7" fill="#fde884"/>
<ellipse transform="translate(480.6 71.4) rotate(32)" rx="5.1" ry="1.3" fill="#fde884"/>
<ellipse transform="translate(304.6 77.3) rotate(-8)" rx="8.4" ry="0.8" fill="#fde884"/>
<ellipse transform="translate(348.2 82.0) rotate(11)" rx="4.5" ry="1.3" fill="#fde884"/>
<ellipse transform="translate(315.0 96.0) rotate(-4)" rx="11.7" ry="1.3" fill="#fde884"/>
<ellipse transform="translate(327.4 102.8) rotate(6)" rx="10.1" ry="1.7" fill="#fde884"/>
<ellipse transform="translate(367.1 131.0) rotate(9)" rx="6.9" ry="1.5" fill="#fde884"/>
<ellipse transform="translate(445.1 124.3) rotate(-1)" rx="5.0" ry="1.1" fill="#fde884"/>
<ellipse transform="translate(413.6 138.8) rotate(0)" rx="4.7" ry="0.9" fill="#fde884"/>
<ellipse transform="translate(481.9 102.8) rotate(6)" rx="3.8" ry="0.7" fill="#fde884"/>
<ellipse transform="translate(359.2 150.9) rotate(-57)" rx="10.3" ry="1.4" fill="#fde884"/>
<ellipse transform="translate(351.5 189.2) rotate(57)" rx="8.7" ry="1.7" fill="#fde884"/>
<ellipse transform="translate(360.6 199.8) rotate(-70)" rx="3.3" ry="0.5" fill="#fde884"/>
<ellipse transform="translate(439.1 144.2) rotate(35)" rx="4.7" ry="0.9" fill="#fde884"/>
<ellipse transform="translate(434.9 158.8) rotate(63)" rx="2.8" ry="1.1" fill="#fde884"/>
<ellipse transform="translate(438.5 162.1) rotate(59)" rx="4.0" ry="1.7" fill="#fde884"/>
<ellipse transform="translate(460.0 175.6) rotate(-8)" rx="4.8" ry="1.3" fill="#fde884"/>
<ellipse transform="translate(455.5 202.5) rotate(45)" rx="3.4" ry="3.8" fill="#fde884"/>
<ellipse transform="translate(452.5 198.8) rotate(56)" rx="1.9" ry="1.3" fill="#fde884"/>
</g>
<g stroke="#c8ccd8" stroke-width="0.7" fill="none" filter="url(#tb)">
<line x1="349.2" y1="76.8" x2="346.5" y2="88.7"/>
<line x1="380.5" y1="98.5" x2="395.0" y2="96.5"/>
<line x1="404.6" y1="114.2" x2="420.0" y2="108.7"/>
<line x1="316.4" y1="157.7" x2="337.0" y2="142.7"/>
</g>
<text x="348.3" y="88.3" font-size="4.5" fill="#d0d8e8" text-anchor="middle" font-weight="bold">1</text>
<text x="390.3" y="103.8" font-size="4.5" fill="#a0b8e0" text-anchor="middle" font-weight="bold">2</text>
<text x="413.7" y="116.9" font-size="4.5" fill="#80a8e0" text-anchor="middle" font-weight="bold">3</text>
<text x="328.6" y="155.7" font-size="4.5" fill="#90b0e0" text-anchor="middle" font-weight="bold">4</text>
</g>
<rect x="216.6" y="17.3" width="12.0" height="192.89999999999998" fill="url(#cb)"/>
<path d="M216.9 210.2 V17.6 H228.6" stroke="#9a9a9a" stroke-width="0.8" fill="none"/>
<line x1="228.6" y1="34.6" x2="230.1" y2="34.6" stroke="#555" stroke-width="0.6"/>
<line x1="228.6" y1="56.3" x2="230.1" y2="56.3" stroke="#555" stroke-width="0.6"/>
<line x1="228.6" y1="77.9" x2="230.1" y2="77.9" stroke="#555" stroke-width="0.6"/>
<line x1="228.6" y1="99.6" x2="230.1" y2="99.6" stroke="#555" stroke-width="0.6"/>
<line x1="228.6" y1="121.3" x2="230.1" y2="121.3" stroke="#555" stroke-width="0.6"/>
<line x1="228.6" y1="142.9" x2="230.1" y2="142.9" stroke="#555" stroke-width="0.6"/>
<line x1="228.6" y1="164.6" x2="230.1" y2="164.6" stroke="#555" stroke-width="0.6"/>
<line x1="228.6" y1="186.2" x2="230.1" y2="186.2" stroke="#555" stroke-width="0.6"/>
<line x1="228.6" y1="207.9" x2="230.1" y2="207.9" stroke="#555" stroke-width="0.6"/>
<text x="231.2" y="26.6" font-size="10.2" fill="#111" stroke="#111" stroke-width="0.1" text-anchor="start">13.6 nm</text>
<text x="250.8" y="43.9" font-size="10.2" fill="#111" stroke="#111" stroke-width="0.1" text-anchor="end">12.0</text>
<text x="250.8" y="65.6" font-size="10.2" fill="#111" stroke="#111" stroke-width="0.1" text-anchor="end">10.0</text>
<text x="250.8" y="87.3" font-size="10.2" fill="#111" stroke="#111" stroke-width="0.1" text-anchor="end">8.0</text>
<text x="250.8" y="108.9" font-size="10.2" fill="#111" stroke="#111" stroke-width="0.1" text-anchor="end">6.0</text>
<text x="250.8" y="130.6" font-size="10.2" fill="#111" stroke="#111" stroke-width="0.1" text-anchor="end">4.0</text>
<text x="250.8" y="152.2" font-size="10.2" fill="#111" stroke="#111" stroke-width="0.1" text-anchor="end">2.0</text>
<text x="250.8" y="173.9" font-size="10.2" fill="#111" stroke="#111" stroke-width="0.1" text-anchor="end">0.0</text>
<text x="250.8" y="208.3" font-size="10.2" fill="#111" stroke="#111" stroke-width="0.1" text-anchor="end">−4.2</text>
<rect x="495.1" y="14.5" width="12.399999999999977" height="192.8" fill="url(#cb)"/>
<path d="M495.40000000000003 207.3 V14.8 H507.5" stroke="#9a9a9a" stroke-width="0.8" fill="none"/>
<line x1="507.5" y1="45.5" x2="509.0" y2="45.5" stroke="#555" stroke-width="0.6"/>
<line x1="507.5" y1="67.7" x2="509.0" y2="67.7" stroke="#555" stroke-width="0.6"/>
<line x1="507.5" y1="89.8" x2="509.0" y2="89.8" stroke="#555" stroke-width="0.6"/>
<line x1="507.5" y1="112.0" x2="509.0" y2="112.0" stroke="#555" stroke-width="0.6"/>
<line x1="507.5" y1="134.1" x2="509.0" y2="134.1" stroke="#555" stroke-width="0.6"/>
<line x1="507.5" y1="156.3" x2="509.0" y2="156.3" stroke="#555" stroke-width="0.6"/>
<line x1="507.5" y1="178.4" x2="509.0" y2="178.4" stroke="#555" stroke-width="0.6"/>
<line x1="507.5" y1="200.6" x2="509.0" y2="200.6" stroke="#555" stroke-width="0.6"/>
<text x="514.8" y="24.7" font-size="10.2" fill="#111" stroke="#111" stroke-width="0.1" text-anchor="start">6.4 nm</text>
<text x="528.6" y="55.9" font-size="10.2" fill="#111" stroke="#111" stroke-width="0.1" text-anchor="end">5.0</text>
<text x="528.6" y="78.0" font-size="10.2" fill="#111" stroke="#111" stroke-width="0.1" text-anchor="end">4.0</text>
<text x="528.6" y="100.2" font-size="10.2" fill="#111" stroke="#111" stroke-width="0.1" text-anchor="end">3.0</text>
<text x="528.6" y="122.3" font-size="10.2" fill="#111" stroke="#111" stroke-width="0.1" text-anchor="end">2.0</text>
<text x="528.6" y="144.5" font-size="10.2" fill="#111" stroke="#111" stroke-width="0.1" text-anchor="end">1.0</text>
<text x="528.6" y="166.7" font-size="10.2" fill="#111" stroke="#111" stroke-width="0.1" text-anchor="end">0.0</text>
<text x="528.6" y="188.8" font-size="10.2" fill="#111" stroke="#111" stroke-width="0.1" text-anchor="end">−1.0</text>
<text x="528.6" y="205.4" font-size="10.2" fill="#111" stroke="#111" stroke-width="0.1" text-anchor="end">−2.3</text>
<text x="16.5" y="13.4" font-size="9" fill="#111" textLength="22.3" lengthAdjust="spacingAndGlyphs">0 µm</text>
<text x="65.0" y="13.4" font-size="9" fill="#111" text-anchor="middle">1</text>
<text x="111.4" y="13.4" font-size="9" fill="#111" text-anchor="middle">2</text>
<text x="157.8" y="13.4" font-size="9" fill="#111" text-anchor="middle">3</text>
<text x="204.2" y="13.4" font-size="9" fill="#111" text-anchor="middle">4</text>
<text x="13.6" y="26.6" font-size="9" fill="#111" text-anchor="end">0</text>
<text x="13.6" y="72.6" font-size="9" fill="#111" text-anchor="end">1</text>
<text x="13.6" y="118.6" font-size="9" fill="#111" text-anchor="end">2</text>
<text x="13.6" y="164.6" font-size="9" fill="#111" text-anchor="end">3</text>
<text x="294.7" y="10.8" font-size="9" fill="#111" textLength="22.6" lengthAdjust="spacingAndGlyphs">0 µm</text>
<text x="339.2" y="10.8" font-size="9" fill="#111" text-anchor="middle">1</text>
<text x="381.0" y="10.8" font-size="9" fill="#111" text-anchor="middle">2</text>
<text x="422.8" y="10.8" font-size="9" fill="#111" text-anchor="middle">3</text>
<text x="464.6" y="10.8" font-size="9" fill="#111" text-anchor="middle">4</text>
<text x="292.3" y="24.4" font-size="9" fill="#111" text-anchor="end">0</text>
<text x="292.3" y="66.0" font-size="9" fill="#111" text-anchor="end">1</text>
<text x="292.3" y="107.6" font-size="9" fill="#111" text-anchor="end">2</text>
<text x="292.3" y="149.2" font-size="9" fill="#111" text-anchor="end">3</text>
<text x="292.3" y="190.8" font-size="9" fill="#111" text-anchor="end">4</text>
<text x="36.6" y="38.9" font-size="16.5" fill="#fff">a</text>
<text x="308.8" y="38.9" font-size="18" fill="#fff">b</text>
<rect x="24.5" y="225.9" width="218.5" height="121.79999999999998" fill="#fff"/>
<line x1="55.7" y1="225.9" x2="55.7" y2="347.7" stroke="#e4e4e4" stroke-width="0.7"/>
<line x1="87.0" y1="225.9" x2="87.0" y2="347.7" stroke="#e4e4e4" stroke-width="0.7"/>
<line x1="118.4" y1="225.9" x2="118.4" y2="347.7" stroke="#e4e4e4" stroke-width="0.7"/>
<line x1="149.7" y1="225.9" x2="149.7" y2="347.7" stroke="#e4e4e4" stroke-width="0.7"/>
<line x1="181.0" y1="225.9" x2="181.0" y2="347.7" stroke="#e4e4e4" stroke-width="0.7"/>
<line x1="212.3" y1="225.9" x2="212.3" y2="347.7" stroke="#e4e4e4" stroke-width="0.7"/>
<line x1="24.5" y1="266.3" x2="243.0" y2="266.3" stroke="#e4e4e4" stroke-width="0.7"/>
<line x1="24.5" y1="307.2" x2="243.0" y2="307.2" stroke="#e4e4e4" stroke-width="0.7"/>
<clipPath id="clc"><rect x="24.5" y="225.9" width="218.5" height="121.79999999999998"/></clipPath>
<g clip-path="url(#clc)" fill="none" stroke-width="0.75" stroke-linejoin="round">
<path d="M24.4 310.0C26.3 310.0 32.2 310.1 36.0 310.0C39.8 309.9 43.6 309.5 47.3 309.1C51.0 308.7 54.8 307.9 58.2 307.5C61.7 307.1 65.7 307.0 68.0 306.4C70.3 305.8 71.3 305.0 72.3 303.6C73.3 302.2 73.7 300.3 74.2 298.2C74.8 296.1 74.9 294.8 75.6 290.9C76.2 286.9 77.1 279.1 78.1 274.5C79.1 269.9 80.2 266.0 81.4 263.1C82.6 260.2 83.7 258.7 85.5 257.4C87.3 256.1 89.8 255.5 92.0 255.2C94.2 254.9 96.4 255.3 98.6 255.7C100.8 256.1 103.2 256.8 105.1 257.4C107.0 257.9 108.3 258.1 109.9 259.0C111.5 259.9 112.8 261.1 114.7 263.1C116.6 265.2 119.1 268.0 121.3 271.3C123.5 274.6 125.9 278.9 127.8 282.7C129.7 286.5 131.2 290.6 132.7 294.2C134.2 297.8 135.4 301.7 136.8 304.0C138.2 306.3 138.9 307.3 140.9 308.1C142.9 308.9 145.0 308.5 149.1 308.6C153.2 308.7 158.8 308.7 165.5 308.9C172.2 309.1 185.5 309.6 189.5 309.7" stroke="#3c3c3c"/>
<path d="M24.4 309.4C26.0 309.4 31.1 309.5 34.0 309.5C36.9 309.5 39.9 309.6 41.8 309.3C43.6 309.1 44.0 309.1 45.1 308.0C46.2 306.9 47.2 304.5 48.4 302.5C49.6 300.5 51.2 298.1 52.2 296.0C53.2 293.9 53.0 292.7 54.4 290.1C55.8 287.5 58.7 282.9 60.9 280.3C63.1 277.7 65.3 275.9 67.5 274.5C69.7 273.1 72.1 272.3 74.0 271.8C75.9 271.3 77.0 271.2 78.9 271.6C80.8 272.1 83.3 273.1 85.5 274.5C87.7 275.9 89.8 278.0 92.0 280.3C94.2 282.6 96.4 285.6 98.6 288.5C100.8 291.4 103.2 294.9 105.1 297.5C107.0 300.1 107.9 302.3 109.8 304.0C111.7 305.7 114.0 306.7 116.4 307.6C118.9 308.5 123.2 309.1 124.5 309.4" stroke="#ff4a4a"/>
<path d="M24.4 307.5C27.0 307.5 35.8 307.5 40.0 307.5C44.2 307.5 47.3 307.5 49.4 307.3C51.5 307.1 51.4 307.4 52.7 306.4C54.0 305.4 55.7 303.8 57.1 301.5C58.5 299.2 59.5 295.3 60.9 292.6C62.3 289.9 64.4 286.8 65.8 285.2C67.2 283.6 67.7 283.7 69.1 283.2C70.5 282.7 72.6 282.9 74.0 282.2C75.4 281.5 76.1 279.8 77.3 279.1C78.5 278.5 80.0 278.1 81.4 278.3C82.8 278.5 84.0 278.8 85.5 280.3C87.0 281.9 88.8 284.5 90.4 287.6C92.0 290.7 93.9 296.0 95.3 299.1C96.7 302.2 97.5 304.8 98.6 306.5C99.7 308.2 99.9 308.6 101.8 309.2C103.7 309.8 103.5 310.0 109.9 310.2C116.3 310.4 129.8 310.4 140.0 310.4C150.2 310.4 165.8 310.4 171.0 310.4" stroke="#2fc84a"/>
<path d="M24.4 312.9C25.5 313.1 28.0 314.1 30.9 314.3C33.8 314.6 38.0 314.4 42.0 314.4C46.0 314.4 52.3 314.8 54.9 314.3C57.5 313.8 56.9 312.7 57.6 311.3C58.3 309.9 58.8 307.8 59.3 305.8C59.8 303.8 59.8 303.4 60.9 299.3C62.0 295.2 64.2 286.3 65.8 281.1C67.4 275.9 68.8 271.8 70.7 268.0C72.6 264.2 75.1 260.5 77.3 258.2C79.5 255.9 82.0 254.9 83.8 254.1C85.6 253.3 86.3 253.1 87.9 253.3C89.5 253.5 91.3 254.4 93.6 255.2C95.9 256.0 99.7 257.1 101.8 258.2C103.9 259.2 104.4 259.9 106.0 261.5C107.6 263.1 109.8 265.3 111.5 268.0C113.2 270.7 114.8 274.0 116.4 277.8C118.0 281.6 119.8 286.8 121.3 290.9C122.8 295.0 124.0 299.7 125.4 302.4C126.8 305.1 127.7 306.2 129.5 307.3C131.3 308.4 133.4 308.5 136.0 308.9C138.6 309.3 143.5 309.5 145.0 309.6" stroke="#3a6fd8"/>
<path d="M24.4 312.4C24.9 312.7 26.0 313.7 27.6 314.0C29.2 314.3 32.0 314.5 34.2 314.3C36.4 314.1 38.9 313.6 40.7 312.9C42.5 312.2 43.7 311.6 45.1 310.2C46.5 308.8 48.0 306.7 49.4 304.7C50.8 302.7 52.6 301.0 53.8 298.2C55.0 295.4 55.3 291.4 56.5 288.0C57.7 284.6 59.1 281.4 60.9 277.8C62.7 274.2 65.6 270.1 67.5 266.4C69.4 262.7 71.1 257.9 72.4 255.7C73.8 253.5 74.4 253.7 75.6 253.3C76.8 252.9 78.0 252.6 79.7 253.3C81.4 254.0 83.5 255.2 85.5 257.4C87.5 259.6 89.8 262.7 92.0 266.4C94.2 270.1 96.4 275.4 98.6 279.5C100.8 283.6 103.0 287.1 104.9 290.9C106.8 294.7 108.2 299.7 109.8 302.4C111.4 305.1 112.8 306.2 114.7 307.3C116.6 308.4 113.8 308.7 121.3 309.2C128.8 309.7 143.4 310.0 160.0 310.2C176.6 310.4 210.8 310.5 221.0 310.6" stroke="#20c8c8"/>
</g>
<path d="M19.7 225.9 H243.0 V352.3" stroke="#8c8c8c" stroke-width="1" fill="none"/>
<path d="M24.5 225.9 V352.3 M19.9 347.7 H243.0" stroke="#2a2a2a" stroke-width="1" fill="none"/>
<path d="M21.3 344.01H24.5M21.3 339.92H24.5M21.3 335.83H24.5M21.3 331.74H24.5M21.3 327.65H24.5M21.3 323.56H24.5M21.3 319.47H24.5M21.3 315.38H24.5M21.3 311.29H24.5M19.9 307.20H24.5M21.3 303.11H24.5M21.3 299.02H24.5M21.3 294.93H24.5M21.3 290.84H24.5M21.3 286.75H24.5M21.3 282.66H24.5M21.3 278.57H24.5M21.3 274.48H24.5M21.3 270.39H24.5M19.9 266.30H24.5M21.3 262.21H24.5M21.3 258.12H24.5M21.3 254.03H24.5M21.3 249.94H24.5M21.3 245.85H24.5M21.3 241.76H24.5M21.3 237.67H24.5M21.3 233.58H24.5M21.3 229.49H24.5M24.40 347.7v4.6M27.53 347.7v3.4M30.66 347.7v3.4M33.79 347.7v3.4M36.92 347.7v3.4M40.05 347.7v3.4M43.18 347.7v3.4M46.31 347.7v3.4M49.44 347.7v3.4M52.57 347.7v3.4M55.70 347.7v4.6M58.83 347.7v3.4M61.96 347.7v3.4M65.09 347.7v3.4M68.22 347.7v3.4M71.35 347.7v3.4M74.48 347.7v3.4M77.61 347.7v3.4M80.74 347.7v3.4M83.87 347.7v3.4M87.00 347.7v4.6M90.13 347.7v3.4M93.26 347.7v3.4M96.39 347.7v3.4M99.52 347.7v3.4M102.65 347.7v3.4M105.78 347.7v3.4M108.91 347.7v3.4M112.04 347.7v3.4M115.17 347.7v3.4M118.30 347.7v4.6M121.43 347.7v3.4M124.56 347.7v3.4M127.69 347.7v3.4M130.82 347.7v3.4M133.95 347.7v3.4M137.08 347.7v3.4M140.21 347.7v3.4M143.34 347.7v3.4M146.47 347.7v3.4M149.60 347.7v4.6M152.73 347.7v3.4M155.86 347.7v3.4M158.99 347.7v3.4M162.12 347.7v3.4M165.25 347.7v3.4M168.38 347.7v3.4M171.51 347.7v3.4M174.64 347.7v3.4M177.77 347.7v3.4M180.90 347.7v4.6M184.03 347.7v3.4M187.16 347.7v3.4M190.29 347.7v3.4M193.42 347.7v3.4M196.55 347.7v3.4M199.68 347.7v3.4M202.81 347.7v3.4M205.94 347.7v3.4M209.07 347.7v3.4M212.20 347.7v4.6M215.33 347.7v3.4M218.46 347.7v3.4M221.59 347.7v3.4M224.72 347.7v3.4M227.85 347.7v3.4M230.98 347.7v3.4M234.11 347.7v3.4M237.24 347.7v3.4M240.37 347.7v3.4" stroke="#2a2a2a" stroke-width="0.75" fill="none"/>
<text x="18.4" y="231.2" font-size="6.2" fill="#222" text-anchor="end">20</text>
<text x="18.4" y="268.5" font-size="6.2" fill="#222" text-anchor="end">10</text>
<text x="18.4" y="309.4" font-size="6.2" fill="#222" text-anchor="end">0</text>
<text x="18.4" y="346.6" font-size="6.2" fill="#222" text-anchor="end">-10</text>
<text x="24.4" y="359.0" font-size="6.2" fill="#222" text-anchor="middle">0.0</text>
<text x="55.7" y="359.0" font-size="6.2" fill="#222" text-anchor="middle">0.1</text>
<text x="87.0" y="359.0" font-size="6.2" fill="#222" text-anchor="middle">0.2</text>
<text x="118.30000000000001" y="359.0" font-size="6.2" fill="#222" text-anchor="middle">0.3</text>
<text x="149.6" y="359.0" font-size="6.2" fill="#222" text-anchor="middle">0.4</text>
<text x="180.9" y="359.0" font-size="6.2" fill="#222" text-anchor="middle">0.5</text>
<text x="212.20000000000002" y="359.0" font-size="6.2" fill="#222" text-anchor="middle">0.6</text>
<text x="238.4" y="359.0" font-size="6.2" fill="#222" text-anchor="middle">0.7</text>
<text x="133.0" y="368.0" font-size="6.2" fill="#222" text-anchor="middle">x [µm]</text>
<text transform="translate(7.4 288.5) rotate(-90)" font-size="6.2" fill="#222" text-anchor="middle">y [nm]</text>
<rect x="206.5" y="228.0" width="33.900000000000006" height="44.19999999999999" fill="#fff" stroke="#333" stroke-width="0.7"/>
<line x1="208.9" y1="233.3" x2="215.9" y2="233.3" stroke="#3c3c3c" stroke-width="0.9"/>
<text x="217.8" y="235.4" font-size="5.8" fill="#222" textLength="20" lengthAdjust="spacingAndGlyphs">Profile 1</text>
<line x1="208.9" y1="242.1" x2="215.9" y2="242.1" stroke="#ff4a4a" stroke-width="0.9"/>
<text x="217.8" y="244.2" font-size="5.8" fill="#222" textLength="20" lengthAdjust="spacingAndGlyphs">Profile 2</text>
<line x1="208.9" y1="250.9" x2="215.9" y2="250.9" stroke="#2fc84a" stroke-width="0.9"/>
<text x="217.8" y="253.0" font-size="5.8" fill="#222" textLength="20" lengthAdjust="spacingAndGlyphs">Profile 3</text>
<line x1="208.9" y1="259.7" x2="215.9" y2="259.7" stroke="#3a6fd8" stroke-width="0.9"/>
<text x="217.8" y="261.8" font-size="5.8" fill="#222" textLength="20" lengthAdjust="spacingAndGlyphs">Profile 4</text>
<line x1="208.9" y1="268.3" x2="215.9" y2="268.3" stroke="#20c8c8" stroke-width="0.9"/>
<text x="217.8" y="270.40000000000003" font-size="5.8" fill="#222" textLength="20" lengthAdjust="spacingAndGlyphs">Profile 5</text>
<rect x="307.7" y="228.4" width="221.59999999999997" height="121.29999999999998" fill="#fff"/>
<line x1="345.0" y1="228.4" x2="345.0" y2="349.7" stroke="#e4e4e4" stroke-width="0.7"/>
<line x1="381.7" y1="228.4" x2="381.7" y2="349.7" stroke="#e4e4e4" stroke-width="0.7"/>
<line x1="418.4" y1="228.4" x2="418.4" y2="349.7" stroke="#e4e4e4" stroke-width="0.7"/>
<line x1="455.1" y1="228.4" x2="455.1" y2="349.7" stroke="#e4e4e4" stroke-width="0.7"/>
<line x1="491.8" y1="228.4" x2="491.8" y2="349.7" stroke="#e4e4e4" stroke-width="0.7"/>
<line x1="307.7" y1="258.2" x2="529.3" y2="258.2" stroke="#e4e4e4" stroke-width="0.7"/>
<line x1="307.7" y1="289.1" x2="529.3" y2="289.1" stroke="#e4e4e4" stroke-width="0.7"/>
<line x1="307.7" y1="319.5" x2="529.3" y2="319.5" stroke="#e4e4e4" stroke-width="0.7"/>
<clipPath id="cld"><rect x="307.7" y="228.4" width="221.59999999999997" height="121.29999999999998"/></clipPath>
<g clip-path="url(#cld)" fill="none" stroke-width="0.75" stroke-linejoin="round">
<path d="M308.3 330.8C308.7 331.4 309.6 334.0 310.7 334.1C311.8 334.2 313.6 331.9 314.8 331.6C316.0 331.3 317.0 331.9 318.1 332.5C319.2 333.1 320.0 335.2 321.4 335.4C322.8 335.6 324.7 333.9 326.3 333.8C327.9 333.7 329.6 334.2 331.2 334.9C332.8 335.6 334.6 337.3 336.1 338.2C337.6 339.1 339.0 340.5 340.2 340.3C341.4 340.1 342.6 339.9 343.5 337.0C344.4 334.1 345.1 328.0 345.9 322.6C346.7 317.2 347.6 310.7 348.4 304.6C349.2 298.5 350.0 291.4 350.8 286.0C351.6 280.6 352.3 276.9 353.3 272.5C354.3 268.1 355.1 264.6 356.6 259.4C358.1 254.2 360.3 245.8 362.3 241.4C364.3 237.0 367.2 235.1 368.8 233.2C370.4 231.3 370.9 229.9 372.1 230.2C373.3 230.5 375.1 232.1 376.2 234.8C377.3 237.5 377.9 241.9 378.6 246.3C379.3 250.7 379.8 255.8 380.3 261.0C380.9 266.2 381.5 273.2 381.9 277.4C382.3 281.6 382.1 282.0 382.7 286.0C383.2 290.0 384.4 295.3 385.2 301.4C386.0 307.5 386.9 316.6 387.7 322.6C388.5 328.6 389.2 333.8 389.9 337.4C390.6 341.0 391.2 343.9 392.0 344.2C392.8 344.5 393.8 340.2 394.8 339.3C395.8 338.4 397.0 338.4 398.1 338.7C399.2 339.0 400.2 340.9 401.4 341.0C402.6 341.1 404.8 339.6 405.5 339.3" stroke="#4a4a4a"/>
<path d="M308.3 331.2C309.4 331.4 312.6 332.5 314.8 332.5C317.0 332.5 318.9 331.5 321.4 331.2C323.8 330.9 326.8 330.3 329.5 330.5C332.2 330.7 335.0 331.9 337.7 332.5C340.4 333.1 343.4 334.1 345.9 334.1C348.4 334.1 350.3 333.7 352.5 332.5C354.7 331.3 357.1 328.9 359.0 326.7C360.9 324.5 362.3 322.8 363.9 319.4C365.5 316.0 367.2 310.4 368.8 306.3C370.4 302.2 372.3 297.2 373.7 294.8C375.1 292.4 375.9 292.2 377.0 291.9C378.1 291.6 378.9 291.3 380.0 292.9C381.1 294.5 382.5 297.8 383.6 301.4C384.7 305.0 385.7 310.1 386.8 314.5C387.9 318.9 389.0 324.3 390.1 327.6C391.2 330.9 392.3 332.5 393.4 334.1C394.5 335.7 395.4 336.4 396.5 337.2C397.6 338.0 398.1 338.5 399.7 339.0C401.3 339.5 403.3 340.1 406.3 340.3C409.3 340.5 413.5 340.2 417.7 340.3C421.9 340.4 429.3 340.6 431.6 340.6" stroke="#ff4a4a"/>
<path d="M308.3 329.5C309.9 329.6 315.1 330.1 318.1 330.0C321.1 329.9 323.6 329.2 326.3 328.9C329.0 328.6 331.8 328.7 334.5 328.4C337.2 328.1 340.3 327.6 342.6 327.2C344.9 326.8 346.9 326.1 348.4 326.2C349.9 326.3 350.4 326.8 351.6 327.6C352.8 328.4 354.3 329.9 355.7 330.8C357.1 331.7 358.1 332.8 359.8 332.8C361.5 332.8 363.8 331.4 365.6 330.8C367.4 330.2 368.9 329.7 370.5 329.2C372.1 328.7 374.0 328.7 375.4 327.9C376.8 327.1 377.4 326.3 378.6 324.3C379.8 322.3 381.3 319.1 382.7 316.1C384.1 313.1 385.4 309.6 386.8 306.3C388.2 303.0 389.6 299.9 390.9 296.5C392.2 293.1 393.6 289.7 394.8 286.0C396.0 282.3 397.0 278.3 398.1 274.1C399.2 269.9 400.2 264.8 401.4 261.0C402.6 257.2 404.0 253.8 405.5 251.2C407.0 248.6 409.0 246.8 410.4 245.5C411.8 244.2 412.7 243.7 413.6 243.5C414.6 243.3 415.1 243.3 416.1 244.3C417.1 245.3 418.3 246.7 419.4 249.5C420.5 252.3 421.7 256.9 422.6 261.0C423.6 265.1 424.3 269.9 425.1 274.1C425.9 278.3 426.5 281.4 427.2 286.0C427.9 290.6 428.5 296.4 429.2 301.4C429.9 306.4 430.7 312.0 431.6 316.1C432.6 320.2 433.7 323.4 434.9 325.9C436.1 328.3 437.5 329.9 439.0 330.8C440.5 331.7 442.3 331.5 443.9 331.3C445.5 331.1 447.3 330.3 448.8 329.5C450.3 328.7 451.8 327.4 452.9 326.7C454.0 326.0 455.0 325.4 455.4 325.1" stroke="#35cc50"/>
<path d="M308.3 325.9C309.0 325.6 310.8 324.3 312.4 324.3C314.0 324.3 316.1 325.3 318.1 325.9C320.1 326.4 322.7 327.6 324.6 327.6C326.5 327.7 327.9 325.9 329.5 326.2C331.1 326.5 332.6 328.1 334.5 329.2C336.4 330.2 338.8 331.6 341.0 332.5C343.2 333.4 345.7 334.8 347.6 334.9C349.5 335.0 351.1 334.8 352.5 333.3C353.9 331.8 354.6 329.9 355.7 325.9C356.8 321.9 357.9 314.7 359.0 309.5C360.1 304.3 361.4 298.7 362.3 294.8C363.2 290.9 363.6 289.7 364.7 286.0C365.8 282.3 367.3 276.8 368.8 272.5C370.3 268.2 372.2 263.3 373.7 260.2C375.2 257.1 376.8 255.0 377.8 253.6C378.9 252.2 379.0 251.6 380.0 252.0C381.0 252.4 382.2 253.5 383.6 256.1C385.0 258.7 386.8 262.8 388.5 267.6C390.2 272.4 392.5 280.2 394.0 284.7C395.5 289.2 396.1 292.0 397.3 294.8C398.5 297.6 399.9 298.1 401.4 301.4C402.9 304.7 404.7 309.9 406.3 314.5C407.9 319.1 409.7 325.7 411.2 329.2C412.7 332.7 413.8 334.1 415.3 335.7C416.8 337.3 418.7 338.7 420.2 339.0C421.7 339.3 422.9 338.1 424.3 337.4C425.7 336.7 427.0 335.1 428.4 334.6C429.8 334.1 431.0 335.1 432.5 334.6C434.0 334.1 435.8 333.6 437.4 331.6C439.0 329.6 440.8 326.3 442.3 322.6C443.8 318.9 445.2 313.9 446.4 309.5C447.6 305.1 448.7 300.4 449.6 296.5C450.6 292.6 451.3 289.7 452.1 286.0C452.9 282.3 453.7 278.3 454.6 274.1C455.6 269.9 456.7 264.6 457.8 261.0C458.9 257.4 460.1 254.7 461.1 252.8C462.1 250.9 462.9 249.5 463.9 249.5C464.8 249.5 465.8 250.6 466.8 252.8C467.8 255.0 469.0 258.5 470.1 262.6C471.2 266.7 472.6 273.7 473.4 277.4C474.2 281.1 474.3 281.8 474.9 284.7C475.5 287.6 476.3 291.2 477.2 294.8C478.1 298.4 479.3 302.5 480.5 306.3C481.7 310.1 483.1 314.4 484.5 317.7C485.9 321.0 487.4 324.1 488.6 325.9C489.8 327.7 490.5 328.1 491.9 328.4C493.3 328.7 495.3 327.6 496.8 327.9C498.3 328.2 499.7 329.4 500.9 330.0C502.1 330.6 502.8 331.4 504.2 331.6C505.6 331.8 507.5 331.1 509.1 331.2C510.7 331.3 512.6 332.2 514.0 332.1C515.4 332.0 515.9 331.3 517.3 330.8C518.7 330.3 520.6 329.2 522.2 328.9C523.8 328.6 526.0 328.9 526.8 328.9" stroke="#3a72d8"/>
</g>
<path d="M302.9 228.4 H529.3 V354.3" stroke="#8c8c8c" stroke-width="1" fill="none"/>
<path d="M307.7 228.4 V354.3 M303.09999999999997 349.7 H529.3" stroke="#2a2a2a" stroke-width="1" fill="none"/>
<path d="M304.5 347.18H307.7M304.5 344.67H307.7M304.5 342.15H307.7M304.5 339.63H307.7M304.5 337.12H307.7M304.5 334.60H307.7M304.5 332.08H307.7M304.5 329.56H307.7M304.5 327.05H307.7M304.5 324.53H307.7M304.5 322.01H307.7M303.1 319.50H307.7M304.5 316.98H307.7M304.5 314.46H307.7M304.5 311.94H307.7M304.5 309.43H307.7M304.5 306.91H307.7M304.5 304.39H307.7M304.5 301.88H307.7M304.5 299.36H307.7M304.5 296.84H307.7M304.5 294.33H307.7M304.5 291.81H307.7M303.1 289.29H307.7M304.5 286.77H307.7M304.5 284.26H307.7M304.5 281.74H307.7M304.5 279.22H307.7M304.5 276.71H307.7M304.5 274.19H307.7M304.5 271.67H307.7M304.5 269.16H307.7M304.5 266.64H307.7M304.5 264.12H307.7M304.5 261.61H307.7M303.1 259.09H307.7M304.5 256.57H307.7M304.5 254.05H307.7M304.5 251.54H307.7M304.5 249.02H307.7M304.5 246.50H307.7M304.5 243.99H307.7M304.5 241.47H307.7M304.5 238.95H307.7M304.5 236.44H307.7M304.5 233.92H307.7M304.5 231.40H307.7M308.30 349.7v4.6M311.97 349.7v3.4M315.64 349.7v3.4M319.30 349.7v3.4M322.97 349.7v3.4M326.64 349.7v3.4M330.31 349.7v3.4M333.98 349.7v3.4M337.64 349.7v3.4M341.31 349.7v3.4M344.98 349.7v4.6M348.65 349.7v3.4M352.32 349.7v3.4M355.98 349.7v3.4M359.65 349.7v3.4M363.32 349.7v3.4M366.99 349.7v3.4M370.66 349.7v3.4M374.32 349.7v3.4M377.99 349.7v3.4M381.66 349.7v4.6M385.33 349.7v3.4M389.00 349.7v3.4M392.66 349.7v3.4M396.33 349.7v3.4M400.00 349.7v3.4M403.67 349.7v3.4M407.34 349.7v3.4M411.00 349.7v3.4M414.67 349.7v3.4M418.34 349.7v4.6M422.01 349.7v3.4M425.68 349.7v3.4M429.34 349.7v3.4M433.01 349.7v3.4M436.68 349.7v3.4M440.35 349.7v3.4M444.02 349.7v3.4M447.68 349.7v3.4M451.35 349.7v3.4M455.02 349.7v4.6M458.69 349.7v3.4M462.36 349.7v3.4M466.02 349.7v3.4M469.69 349.7v3.4M473.36 349.7v3.4M477.03 349.7v3.4M480.70 349.7v3.4M484.36 349.7v3.4M488.03 349.7v3.4M491.70 349.7v4.6M495.37 349.7v3.4M499.04 349.7v3.4M502.70 349.7v3.4M506.37 349.7v3.4M510.04 349.7v3.4M513.71 349.7v3.4M517.38 349.7v3.4M521.04 349.7v3.4M524.71 349.7v3.4M528.38 349.7v4.6" stroke="#2a2a2a" stroke-width="0.75" fill="none"/>
<text x="301.2" y="233.5" font-size="6.2" fill="#222" text-anchor="end">6</text>
<text x="301.2" y="260.4" font-size="6.2" fill="#222" text-anchor="end">4</text>
<text x="301.2" y="291.3" font-size="6.2" fill="#222" text-anchor="end">2</text>
<text x="301.2" y="321.7" font-size="6.2" fill="#222" text-anchor="end">0</text>
<text x="301.2" y="349.4" font-size="6.2" fill="#222" text-anchor="end">-2</text>
<text x="308.3" y="361.8" font-size="6.2" fill="#222" text-anchor="middle">0.0</text>
<text x="344.98" y="361.8" font-size="6.2" fill="#222" text-anchor="middle">0.1</text>
<text x="381.66" y="361.8" font-size="6.2" fill="#222" text-anchor="middle">0.2</text>
<text x="418.34000000000003" y="361.8" font-size="6.2" fill="#222" text-anchor="middle">0.3</text>
<text x="455.02" y="361.8" font-size="6.2" fill="#222" text-anchor="middle">0.4</text>
<text x="491.70000000000005" y="361.8" font-size="6.2" fill="#222" text-anchor="middle">0.5</text>
<text x="524.5" y="361.8" font-size="6.2" fill="#222" text-anchor="middle">0.6</text>
<text x="418.0" y="369.8" font-size="6.2" fill="#222" text-anchor="middle">x [µm]</text>
<text transform="translate(292.6 286.8) rotate(-90)" font-size="6.2" fill="#222" text-anchor="middle">y [nm]</text>
<rect x="492.8" y="230.6" width="34.099999999999966" height="34.599999999999994" fill="#fff" stroke="#333" stroke-width="0.7"/>
<line x1="495.2" y1="235.6" x2="502.2" y2="235.6" stroke="#909090" stroke-width="0.9"/>
<text x="504.1" y="237.7" font-size="5.8" fill="#222" textLength="20" lengthAdjust="spacingAndGlyphs">Profile 1</text>
<line x1="495.2" y1="244.4" x2="502.2" y2="244.4" stroke="#ff4a4a" stroke-width="0.9"/>
<text x="504.1" y="246.5" font-size="5.8" fill="#222" textLength="20" lengthAdjust="spacingAndGlyphs">Profile 2</text>
<line x1="495.2" y1="252.6" x2="502.2" y2="252.6" stroke="#35cc50" stroke-width="0.9"/>
<text x="504.1" y="254.7" font-size="5.8" fill="#222" textLength="20" lengthAdjust="spacingAndGlyphs">Profile 3</text>
<line x1="495.2" y1="261.4" x2="502.2" y2="261.4" stroke="#3a72d8" stroke-width="0.9"/>
<text x="504.1" y="263.5" font-size="5.8" fill="#222" textLength="20" lengthAdjust="spacingAndGlyphs">Profile 4</text>
<text font-size="18.2" fill="#000" stroke="#000" stroke-width="0.35" transform="translate(37.6 245.5) scale(0.88 1)">c</text>
<text x="308.2" y="245.8" font-size="19" fill="#000">d</text>
</svg></body></html>
